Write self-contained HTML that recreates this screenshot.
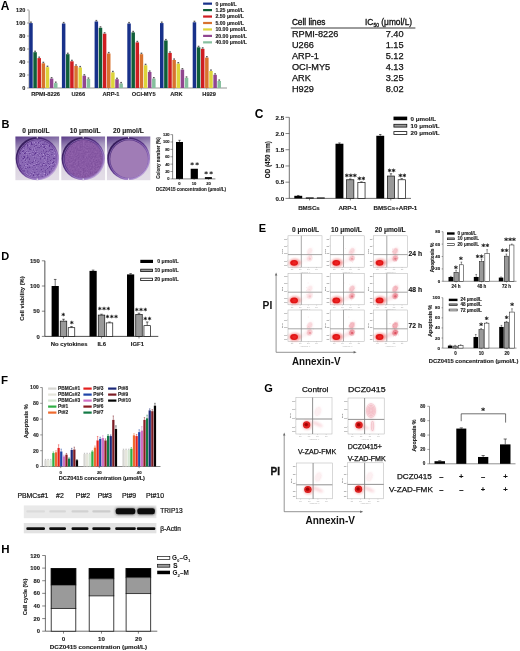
<!DOCTYPE html>
<html><head><meta charset="utf-8"><title>Figure</title>
<style>html,body{margin:0;padding:0;background:#fff;} svg{display:block;} text{font-family:'Liberation Sans', Arial, Helvetica, sans-serif;}</style>
</head><body>
<svg width="520" height="651" viewBox="0 0 520 651">
<defs>
<filter id="bl03" x="-50%" y="-50%" width="200%" height="200%"><feGaussianBlur stdDeviation="0.3"/></filter>
<filter id="bl05" x="-50%" y="-50%" width="200%" height="200%"><feGaussianBlur stdDeviation="0.5"/></filter>
<filter id="bl1" x="-50%" y="-50%" width="200%" height="200%"><feGaussianBlur stdDeviation="1"/></filter>
<filter id="bl04" x="-50%" y="-50%" width="200%" height="200%"><feGaussianBlur stdDeviation="0.4"/></filter>
<filter id="bl08" x="-50%" y="-50%" width="200%" height="200%"><feGaussianBlur stdDeviation="0.8"/></filter>
<filter id="speck1" x="0" y="0" width="100%" height="100%" color-interpolation-filters="sRGB">
<feTurbulence type="fractalNoise" baseFrequency="0.55" numOctaves="2" seed="4" result="n"/>
<feColorMatrix in="n" type="matrix" values="0 0 0 0 0.36  0 0 0 0 0.2  0 0 0 0 0.56  -4.5 0 0 0 2.15" result="c"/>
<feTurbulence type="fractalNoise" baseFrequency="1.1" numOctaves="1" seed="11" result="n2"/>
<feColorMatrix in="n2" type="matrix" values="0 0 0 0 0.72  0 0 0 0 0.6  0 0 0 0 0.86  4 0 0 0 -2.3" result="c2"/>
<feMerge result="m"><feMergeNode in="c"/><feMergeNode in="c2"/></feMerge>
<feComposite in="m" in2="SourceGraphic" operator="in"/>
</filter>
<filter id="speck2" x="0" y="0" width="100%" height="100%" color-interpolation-filters="sRGB">
<feTurbulence type="fractalNoise" baseFrequency="0.6" numOctaves="2" seed="9" result="n"/>
<feColorMatrix in="n" type="matrix" values="0.3 0 0 0 0.38  0.3 0 0 0 0.2  0.25 0 0 0 0.52  0 0 0 0 0.5" result="c"/>
<feComposite in="c" in2="SourceGraphic" operator="in"/>
</filter>
<linearGradient id="rimg" x1="0.15" y1="0.1" x2="0.85" y2="0.9">
<stop offset="0" stop-color="#321a58"/><stop offset="0.45" stop-color="#5a3488"/><stop offset="0.8" stop-color="#9a78c0"/><stop offset="1" stop-color="#c8b0dc"/>
</linearGradient>
<linearGradient id="dbg" x1="0" y1="0" x2="0.15" y2="1">
<stop offset="0" stop-color="#5a3c88"/><stop offset="0.3" stop-color="#a898c0"/><stop offset="0.6" stop-color="#d8d0de"/><stop offset="1" stop-color="#e2dce6"/>
</linearGradient>
</defs>
<rect width="520" height="651" fill="#fff"/>
<text x="0.8" y="10" font-size="12" font-weight="bold" fill="#000">A</text>
<line x1="29.1" y1="10.4" x2="29.1" y2="88" stroke="#7a7a7a" stroke-width="0.8"/>
<line x1="29.1" y1="88" x2="227" y2="88" stroke="#7a7a7a" stroke-width="0.8"/>
<line x1="27.1" y1="88" x2="29.1" y2="88" stroke="#7a7a7a" stroke-width="0.7"/>
<text x="25.3" y="89.95" font-size="5.5" text-anchor="end" font-weight="bold" fill="#222" stroke="#222" stroke-width="0.12">0</text>
<line x1="27.1" y1="75" x2="29.1" y2="75" stroke="#7a7a7a" stroke-width="0.7"/>
<text x="25.3" y="76.95" font-size="5.5" text-anchor="end" font-weight="bold" fill="#222" stroke="#222" stroke-width="0.12">20</text>
<line x1="27.1" y1="62" x2="29.1" y2="62" stroke="#7a7a7a" stroke-width="0.7"/>
<text x="25.3" y="63.95" font-size="5.5" text-anchor="end" font-weight="bold" fill="#222" stroke="#222" stroke-width="0.12">40</text>
<line x1="27.1" y1="49" x2="29.1" y2="49" stroke="#7a7a7a" stroke-width="0.7"/>
<text x="25.3" y="50.95" font-size="5.5" text-anchor="end" font-weight="bold" fill="#222" stroke="#222" stroke-width="0.12">60</text>
<line x1="27.1" y1="36" x2="29.1" y2="36" stroke="#7a7a7a" stroke-width="0.7"/>
<text x="25.3" y="37.95" font-size="5.5" text-anchor="end" font-weight="bold" fill="#222" stroke="#222" stroke-width="0.12">80</text>
<line x1="27.1" y1="23" x2="29.1" y2="23" stroke="#7a7a7a" stroke-width="0.7"/>
<text x="25.3" y="24.95" font-size="5.5" text-anchor="end" font-weight="bold" fill="#222" stroke="#222" stroke-width="0.12">100</text>
<line x1="27.1" y1="10" x2="29.1" y2="10" stroke="#7a7a7a" stroke-width="0.7"/>
<text x="25.3" y="11.95" font-size="5.5" text-anchor="end" font-weight="bold" fill="#222" stroke="#222" stroke-width="0.12">120</text>
<rect x="29.2" y="23.1" width="3.5" height="64.9" fill="#18318a"/>
<rect x="30.1" y="21.5" width="1.7" height="1.4" fill="#2a2a2a" opacity="0.75"/>
<rect x="33.33" y="52.2" width="3.5" height="35.8" fill="#105e38"/>
<rect x="34.23" y="50.6" width="1.7" height="1.4" fill="#2a2a2a" opacity="0.75"/>
<rect x="37.46" y="58.1" width="3.5" height="29.9" fill="#cf1d21"/>
<rect x="38.36" y="56.5" width="1.7" height="1.4" fill="#2a2a2a" opacity="0.75"/>
<rect x="41.59" y="63.3" width="3.5" height="24.7" fill="#d8722f"/>
<rect x="42.49" y="61.7" width="1.7" height="1.4" fill="#2a2a2a" opacity="0.75"/>
<rect x="45.72" y="67.2" width="3.5" height="20.8" fill="#ddd43a"/>
<rect x="46.62" y="65.6" width="1.7" height="1.4" fill="#2a2a2a" opacity="0.75"/>
<rect x="49.85" y="78.6" width="3.5" height="9.4" fill="#904690"/>
<rect x="50.75" y="77" width="1.7" height="1.4" fill="#2a2a2a" opacity="0.75"/>
<rect x="53.98" y="83.1" width="3.5" height="4.9" fill="#86bf9e"/>
<rect x="54.88" y="81.5" width="1.7" height="1.4" fill="#2a2a2a" opacity="0.75"/>
<line x1="43.2" y1="88" x2="43.2" y2="89.6" stroke="#7a7a7a" stroke-width="0.6"/>
<text x="45.6" y="96.3" font-size="5.7" text-anchor="middle" font-weight="bold" fill="#222" stroke="#222" stroke-width="0.12">RPMI-8226</text>
<rect x="61.9" y="23.5" width="3.5" height="64.5" fill="#18318a"/>
<rect x="62.8" y="21.9" width="1.7" height="1.4" fill="#2a2a2a" opacity="0.75"/>
<rect x="66.03" y="54.2" width="3.5" height="33.8" fill="#105e38"/>
<rect x="66.93" y="52.6" width="1.7" height="1.4" fill="#2a2a2a" opacity="0.75"/>
<rect x="70.16" y="61.3" width="3.5" height="26.7" fill="#cf1d21"/>
<rect x="71.06" y="59.7" width="1.7" height="1.4" fill="#2a2a2a" opacity="0.75"/>
<rect x="74.29" y="65.9" width="3.5" height="22.1" fill="#d8722f"/>
<rect x="75.19" y="64.3" width="1.7" height="1.4" fill="#2a2a2a" opacity="0.75"/>
<rect x="78.42" y="67.5" width="3.5" height="20.5" fill="#ddd43a"/>
<rect x="79.32" y="65.9" width="1.7" height="1.4" fill="#2a2a2a" opacity="0.75"/>
<rect x="82.55" y="75.7" width="3.5" height="12.3" fill="#904690"/>
<rect x="83.45" y="74.1" width="1.7" height="1.4" fill="#2a2a2a" opacity="0.75"/>
<rect x="86.68" y="79" width="3.5" height="9" fill="#86bf9e"/>
<rect x="87.58" y="77.4" width="1.7" height="1.4" fill="#2a2a2a" opacity="0.75"/>
<line x1="75.9" y1="88" x2="75.9" y2="89.6" stroke="#7a7a7a" stroke-width="0.6"/>
<text x="78.3" y="96.3" font-size="5.7" text-anchor="middle" font-weight="bold" fill="#222" stroke="#222" stroke-width="0.12">U266</text>
<rect x="94.6" y="21.5" width="3.5" height="66.5" fill="#18318a"/>
<rect x="95.5" y="19.9" width="1.7" height="1.4" fill="#2a2a2a" opacity="0.75"/>
<rect x="98.73" y="27.8" width="3.5" height="60.2" fill="#105e38"/>
<rect x="99.63" y="26.2" width="1.7" height="1.4" fill="#2a2a2a" opacity="0.75"/>
<rect x="102.86" y="33.7" width="3.5" height="54.3" fill="#cf1d21"/>
<rect x="103.76" y="32.1" width="1.7" height="1.4" fill="#2a2a2a" opacity="0.75"/>
<rect x="106.99" y="53.5" width="3.5" height="34.5" fill="#d8722f"/>
<rect x="107.89" y="51.9" width="1.7" height="1.4" fill="#2a2a2a" opacity="0.75"/>
<rect x="111.12" y="72.4" width="3.5" height="15.6" fill="#ddd43a"/>
<rect x="112.02" y="70.8" width="1.7" height="1.4" fill="#2a2a2a" opacity="0.75"/>
<rect x="115.25" y="79.2" width="3.5" height="8.8" fill="#904690"/>
<rect x="116.15" y="77.6" width="1.7" height="1.4" fill="#2a2a2a" opacity="0.75"/>
<rect x="119.38" y="83.5" width="3.5" height="4.5" fill="#86bf9e"/>
<rect x="120.28" y="81.9" width="1.7" height="1.4" fill="#2a2a2a" opacity="0.75"/>
<line x1="108.6" y1="88" x2="108.6" y2="89.6" stroke="#7a7a7a" stroke-width="0.6"/>
<text x="111" y="96.3" font-size="5.7" text-anchor="middle" font-weight="bold" fill="#222" stroke="#222" stroke-width="0.12">ARP-1</text>
<rect x="127.3" y="23.5" width="3.5" height="64.5" fill="#18318a"/>
<rect x="128.2" y="21.9" width="1.7" height="1.4" fill="#2a2a2a" opacity="0.75"/>
<rect x="131.43" y="32.4" width="3.5" height="55.6" fill="#105e38"/>
<rect x="132.33" y="30.8" width="1.7" height="1.4" fill="#2a2a2a" opacity="0.75"/>
<rect x="135.56" y="42.4" width="3.5" height="45.6" fill="#cf1d21"/>
<rect x="136.46" y="40.8" width="1.7" height="1.4" fill="#2a2a2a" opacity="0.75"/>
<rect x="139.69" y="54.2" width="3.5" height="33.8" fill="#d8722f"/>
<rect x="140.59" y="52.6" width="1.7" height="1.4" fill="#2a2a2a" opacity="0.75"/>
<rect x="143.82" y="65.3" width="3.5" height="22.7" fill="#ddd43a"/>
<rect x="144.72" y="63.7" width="1.7" height="1.4" fill="#2a2a2a" opacity="0.75"/>
<rect x="147.95" y="72" width="3.5" height="16" fill="#904690"/>
<rect x="148.85" y="70.4" width="1.7" height="1.4" fill="#2a2a2a" opacity="0.75"/>
<rect x="152.08" y="78.6" width="3.5" height="9.4" fill="#86bf9e"/>
<rect x="152.98" y="77" width="1.7" height="1.4" fill="#2a2a2a" opacity="0.75"/>
<line x1="141.3" y1="88" x2="141.3" y2="89.6" stroke="#7a7a7a" stroke-width="0.6"/>
<text x="143.7" y="96.3" font-size="5.7" text-anchor="middle" font-weight="bold" fill="#222" stroke="#222" stroke-width="0.12">OCI-MY5</text>
<rect x="160" y="23.1" width="3.5" height="64.9" fill="#18318a"/>
<rect x="160.9" y="21.5" width="1.7" height="1.4" fill="#2a2a2a" opacity="0.75"/>
<rect x="164.13" y="40.5" width="3.5" height="47.5" fill="#105e38"/>
<rect x="165.03" y="38.9" width="1.7" height="1.4" fill="#2a2a2a" opacity="0.75"/>
<rect x="168.26" y="52.9" width="3.5" height="35.1" fill="#cf1d21"/>
<rect x="169.16" y="51.3" width="1.7" height="1.4" fill="#2a2a2a" opacity="0.75"/>
<rect x="172.39" y="60" width="3.5" height="28" fill="#d8722f"/>
<rect x="173.29" y="58.4" width="1.7" height="1.4" fill="#2a2a2a" opacity="0.75"/>
<rect x="176.52" y="63.6" width="3.5" height="24.4" fill="#ddd43a"/>
<rect x="177.42" y="62" width="1.7" height="1.4" fill="#2a2a2a" opacity="0.75"/>
<rect x="180.65" y="69.6" width="3.5" height="18.4" fill="#904690"/>
<rect x="181.55" y="68" width="1.7" height="1.4" fill="#2a2a2a" opacity="0.75"/>
<rect x="184.78" y="77.9" width="3.5" height="10.1" fill="#86bf9e"/>
<rect x="185.68" y="76.3" width="1.7" height="1.4" fill="#2a2a2a" opacity="0.75"/>
<line x1="174" y1="88" x2="174" y2="89.6" stroke="#7a7a7a" stroke-width="0.6"/>
<text x="176.4" y="96.3" font-size="5.7" text-anchor="middle" font-weight="bold" fill="#222" stroke="#222" stroke-width="0.12">ARK</text>
<rect x="192.7" y="22.3" width="3.5" height="65.7" fill="#18318a"/>
<rect x="193.6" y="20.7" width="1.7" height="1.4" fill="#2a2a2a" opacity="0.75"/>
<rect x="196.83" y="47.3" width="3.5" height="40.7" fill="#105e38"/>
<rect x="197.73" y="45.7" width="1.7" height="1.4" fill="#2a2a2a" opacity="0.75"/>
<rect x="200.96" y="48.8" width="3.5" height="39.2" fill="#cf1d21"/>
<rect x="201.86" y="47.2" width="1.7" height="1.4" fill="#2a2a2a" opacity="0.75"/>
<rect x="205.09" y="57.6" width="3.5" height="30.4" fill="#d8722f"/>
<rect x="205.99" y="56" width="1.7" height="1.4" fill="#2a2a2a" opacity="0.75"/>
<rect x="209.22" y="71" width="3.5" height="17" fill="#ddd43a"/>
<rect x="210.12" y="69.4" width="1.7" height="1.4" fill="#2a2a2a" opacity="0.75"/>
<rect x="213.35" y="74.8" width="3.5" height="13.2" fill="#904690"/>
<rect x="214.25" y="73.2" width="1.7" height="1.4" fill="#2a2a2a" opacity="0.75"/>
<rect x="217.48" y="81" width="3.5" height="7" fill="#86bf9e"/>
<rect x="218.38" y="79.4" width="1.7" height="1.4" fill="#2a2a2a" opacity="0.75"/>
<line x1="206.7" y1="88" x2="206.7" y2="89.6" stroke="#7a7a7a" stroke-width="0.6"/>
<text x="209.1" y="96.3" font-size="5.7" text-anchor="middle" font-weight="bold" fill="#222" stroke="#222" stroke-width="0.12">H929</text>
<rect x="203.1" y="2.55" width="8.9" height="2.2" fill="#18318a"/>
<text x="215.4" y="5.55" font-size="5.2" font-weight="bold" fill="#222" stroke="#222" stroke-width="0.12">0 &#956;mol/L</text>
<rect x="203.1" y="9" width="8.9" height="2.2" fill="#105e38"/>
<text x="215.4" y="12" font-size="5.2" font-weight="bold" fill="#222" stroke="#222" stroke-width="0.12">1.25 &#956;mol/L</text>
<rect x="203.1" y="15.45" width="8.9" height="2.2" fill="#cf1d21"/>
<text x="215.4" y="18.45" font-size="5.2" font-weight="bold" fill="#222" stroke="#222" stroke-width="0.12">2.50 &#956;mol/L</text>
<rect x="203.1" y="21.9" width="8.9" height="2.2" fill="#d8722f"/>
<text x="215.4" y="24.9" font-size="5.2" font-weight="bold" fill="#222" stroke="#222" stroke-width="0.12">5.00 &#956;mol/L</text>
<rect x="203.1" y="28.35" width="8.9" height="2.2" fill="#ddd43a"/>
<text x="215.4" y="31.35" font-size="5.2" font-weight="bold" fill="#222" stroke="#222" stroke-width="0.12">10.00 &#956;mol/L</text>
<rect x="203.1" y="34.8" width="8.9" height="2.2" fill="#904690"/>
<text x="215.4" y="37.8" font-size="5.2" font-weight="bold" fill="#222" stroke="#222" stroke-width="0.12">20.00 &#956;mol/L</text>
<rect x="203.1" y="41.25" width="8.9" height="2.2" fill="#86bf9e"/>
<text x="215.4" y="44.25" font-size="5.2" font-weight="bold" fill="#222" stroke="#222" stroke-width="0.12">40.00 &#956;mol/L</text>
<text x="291.9" y="25" font-size="8.4" fill="#111" stroke="#111" stroke-width="0.35" textLength="33.5" lengthAdjust="spacingAndGlyphs">Cell lines</text>
<text x="365" y="25" font-size="8.4" fill="#111" stroke="#111" stroke-width="0.3">IC<tspan font-size="5" dy="1.8">50</tspan><tspan dy="-1.8"> (&#956;mol/L)</tspan></text>
<line x1="290.8" y1="28" x2="415.4" y2="28" stroke="#222" stroke-width="0.9"/>
<text x="291.9" y="37.4" font-size="9.2" fill="#111" stroke="#111" stroke-width="0.25">RPMI-8226</text>
<text x="394.6" y="37.4" font-size="9.2" text-anchor="middle" fill="#111" stroke="#111" stroke-width="0.25">7.40</text>
<text x="291.9" y="48.25" font-size="9.2" fill="#111" stroke="#111" stroke-width="0.25">U266</text>
<text x="394.6" y="48.25" font-size="9.2" text-anchor="middle" fill="#111" stroke="#111" stroke-width="0.25">1.15</text>
<text x="291.9" y="59.1" font-size="9.2" fill="#111" stroke="#111" stroke-width="0.25">ARP-1</text>
<text x="394.6" y="59.1" font-size="9.2" text-anchor="middle" fill="#111" stroke="#111" stroke-width="0.25">5.12</text>
<text x="291.9" y="69.95" font-size="9.2" fill="#111" stroke="#111" stroke-width="0.25">OCI-MY5</text>
<text x="394.6" y="69.95" font-size="9.2" text-anchor="middle" fill="#111" stroke="#111" stroke-width="0.25">4.13</text>
<text x="291.9" y="80.8" font-size="9.2" fill="#111" stroke="#111" stroke-width="0.25">ARK</text>
<text x="394.6" y="80.8" font-size="9.2" text-anchor="middle" fill="#111" stroke="#111" stroke-width="0.25">3.25</text>
<text x="291.9" y="91.65" font-size="9.2" fill="#111" stroke="#111" stroke-width="0.25">H929</text>
<text x="394.6" y="91.65" font-size="9.2" text-anchor="middle" fill="#111" stroke="#111" stroke-width="0.25">8.02</text>
<text x="1.4" y="127.8" font-size="11" font-weight="bold" fill="#000">B</text>
<text x="35.9" y="132.8" font-size="6.6" text-anchor="middle" font-weight="bold" fill="#1a1a1a" stroke="#1a1a1a" stroke-width="0.12">0 &#956;mol/L</text>
<text x="85.2" y="132.8" font-size="6.6" text-anchor="middle" font-weight="bold" fill="#1a1a1a" stroke="#1a1a1a" stroke-width="0.12">10 &#956;mol/L</text>
<text x="128.4" y="132.8" font-size="6.6" text-anchor="middle" font-weight="bold" fill="#1a1a1a" stroke="#1a1a1a" stroke-width="0.12">20 &#956;mol/L</text>
<rect x="15.4" y="136.5" width="43.7" height="43.7" fill="url(#dbg)"/>
<circle cx="37.25" cy="158.65" r="21.55" fill="url(#rimg)"/>
<circle cx="37.65" cy="159.05" r="19.85" fill="none" stroke="#a98ad0" stroke-width="0.7" opacity="0.9"/>
<circle cx="37.65" cy="159.05" r="19.25" fill="none" stroke="#5e3490" stroke-width="0.5" opacity="0.7"/>
<circle cx="37.65" cy="159.05" r="18.95" fill="#8a68b4"/>
<circle cx="37.65" cy="159.05" r="18.55" fill="#8a68b4" filter="url(#speck1)"/>
<rect x="36.75" y="136.5" width="1" height="1.8" fill="#eee8f2"/>
<rect x="36.75" y="178.4" width="1" height="1.8" fill="#eee8f2"/>
<rect x="61.3" y="136.5" width="43.8" height="43.7" fill="url(#dbg)"/>
<circle cx="83.2" cy="158.65" r="21.6" fill="url(#rimg)"/>
<circle cx="83.6" cy="159.05" r="19.9" fill="none" stroke="#a98ad0" stroke-width="0.7" opacity="0.9"/>
<circle cx="83.6" cy="159.05" r="19.3" fill="none" stroke="#5e3490" stroke-width="0.5" opacity="0.7"/>
<circle cx="83.6" cy="159.05" r="19" fill="#885aa4"/>
<circle cx="83.6" cy="159.05" r="18.6" fill="#885aa4" filter="url(#speck2)"/>
<rect x="82.7" y="136.5" width="1" height="1.8" fill="#eee8f2"/>
<rect x="82.7" y="178.4" width="1" height="1.8" fill="#eee8f2"/>
<rect x="106.9" y="136.5" width="43.4" height="43.7" fill="url(#dbg)"/>
<circle cx="128.6" cy="158.65" r="21.4" fill="url(#rimg)"/>
<circle cx="129" cy="159.05" r="19.7" fill="none" stroke="#a98ad0" stroke-width="0.7" opacity="0.9"/>
<circle cx="129" cy="159.05" r="19.1" fill="none" stroke="#5e3490" stroke-width="0.5" opacity="0.7"/>
<circle cx="129" cy="159.05" r="18.8" fill="#a07cb6"/>
<rect x="128.1" y="136.5" width="1" height="1.8" fill="#eee8f2"/>
<rect x="128.1" y="178.4" width="1" height="1.8" fill="#eee8f2"/>
<line x1="172.6" y1="134.6" x2="172.6" y2="178.9" stroke="#222" stroke-width="0.55"/>
<line x1="172.6" y1="178.9" x2="215.4" y2="178.9" stroke="#222" stroke-width="0.55"/>
<line x1="170.4" y1="178.9" x2="172.6" y2="178.9" stroke="#222" stroke-width="0.45"/>
<text x="169.6" y="180.3" font-size="4" text-anchor="end" font-weight="bold" fill="#222" stroke="#222" stroke-width="0.12">0</text>
<line x1="170.4" y1="171.52" x2="172.6" y2="171.52" stroke="#222" stroke-width="0.45"/>
<text x="169.6" y="172.92" font-size="4" text-anchor="end" font-weight="bold" fill="#222" stroke="#222" stroke-width="0.12">20</text>
<line x1="170.4" y1="164.13" x2="172.6" y2="164.13" stroke="#222" stroke-width="0.45"/>
<text x="169.6" y="165.53" font-size="4" text-anchor="end" font-weight="bold" fill="#222" stroke="#222" stroke-width="0.12">40</text>
<line x1="170.4" y1="156.75" x2="172.6" y2="156.75" stroke="#222" stroke-width="0.45"/>
<text x="169.6" y="158.15" font-size="4" text-anchor="end" font-weight="bold" fill="#222" stroke="#222" stroke-width="0.12">60</text>
<line x1="170.4" y1="149.37" x2="172.6" y2="149.37" stroke="#222" stroke-width="0.45"/>
<text x="169.6" y="150.77" font-size="4" text-anchor="end" font-weight="bold" fill="#222" stroke="#222" stroke-width="0.12">80</text>
<line x1="170.4" y1="141.98" x2="172.6" y2="141.98" stroke="#222" stroke-width="0.45"/>
<text x="169.6" y="143.38" font-size="4" text-anchor="end" font-weight="bold" fill="#222" stroke="#222" stroke-width="0.12">100</text>
<line x1="170.4" y1="134.6" x2="172.6" y2="134.6" stroke="#222" stroke-width="0.45"/>
<text x="169.6" y="136" font-size="4" text-anchor="end" font-weight="bold" fill="#222" stroke="#222" stroke-width="0.12">120</text>
<rect x="176" y="141.98" width="7" height="36.92" fill="#000"/>
<line x1="179.5" y1="141.98" x2="179.5" y2="140.29" stroke="#000" stroke-width="0.5"/>
<line x1="178.25" y1="140.29" x2="180.75" y2="140.29" stroke="#000" stroke-width="0.5"/>
<rect x="190.7" y="168.75" width="7.2" height="10.15" fill="#000"/>
<rect x="204.9" y="177.13" width="7" height="1.77" fill="#000"/>
<text x="190.57" y="166.95" font-size="6.2" font-weight="bold" fill="#111" letter-spacing="1.66" stroke="#111" stroke-width="0.18" style="font-family:'DejaVu Sans', sans-serif">**</text>
<text x="204.57" y="175.75" font-size="6.2" font-weight="bold" fill="#111" letter-spacing="1.66" stroke="#111" stroke-width="0.18" style="font-family:'DejaVu Sans', sans-serif">**</text>
<line x1="179.4" y1="178.9" x2="179.4" y2="179.9" stroke="#222" stroke-width="0.45"/>
<text x="179.4" y="184.6" font-size="4.1" text-anchor="middle" font-weight="bold" fill="#222" stroke="#222" stroke-width="0.12">0</text>
<line x1="194.1" y1="178.9" x2="194.1" y2="179.9" stroke="#222" stroke-width="0.45"/>
<text x="194.1" y="184.6" font-size="4.1" text-anchor="middle" font-weight="bold" fill="#222" stroke="#222" stroke-width="0.12">10</text>
<line x1="208.6" y1="178.9" x2="208.6" y2="179.9" stroke="#222" stroke-width="0.45"/>
<text x="208.6" y="184.6" font-size="4.1" text-anchor="middle" font-weight="bold" fill="#222" stroke="#222" stroke-width="0.12">20</text>
<text x="191" y="190.9" font-size="4.6" text-anchor="middle" font-weight="bold" fill="#222" stroke="#222" stroke-width="0.12" textLength="70" lengthAdjust="spacingAndGlyphs">DCZ0415 concentration (&#956;mol/L)</text>
<text x="159.5" y="158" font-size="4.8" text-anchor="middle" font-weight="bold" fill="#222" stroke="#222" stroke-width="0.12" transform="rotate(-90 159.5 158)" textLength="41.5" lengthAdjust="spacingAndGlyphs">Colony number (%)</text>
<text x="254.7" y="118" font-size="12" font-weight="bold" fill="#000">C</text>
<line x1="289.3" y1="117.3" x2="289.3" y2="198.4" stroke="#333" stroke-width="0.7"/>
<line x1="289.3" y1="198.4" x2="411" y2="198.4" stroke="#333" stroke-width="0.7"/>
<line x1="285.5" y1="198.4" x2="289.3" y2="198.4" stroke="#333" stroke-width="0.6"/>
<text x="284.2" y="200.6" font-size="6.2" text-anchor="end" font-weight="bold" fill="#1a1a1a" stroke="#1a1a1a" stroke-width="0.12">0.0</text>
<line x1="285.5" y1="182.18" x2="289.3" y2="182.18" stroke="#333" stroke-width="0.6"/>
<text x="284.2" y="184.38" font-size="6.2" text-anchor="end" font-weight="bold" fill="#1a1a1a" stroke="#1a1a1a" stroke-width="0.12">0.5</text>
<line x1="285.5" y1="165.96" x2="289.3" y2="165.96" stroke="#333" stroke-width="0.6"/>
<text x="284.2" y="168.16" font-size="6.2" text-anchor="end" font-weight="bold" fill="#1a1a1a" stroke="#1a1a1a" stroke-width="0.12">1.0</text>
<line x1="285.5" y1="149.74" x2="289.3" y2="149.74" stroke="#333" stroke-width="0.6"/>
<text x="284.2" y="151.94" font-size="6.2" text-anchor="end" font-weight="bold" fill="#1a1a1a" stroke="#1a1a1a" stroke-width="0.12">1.5</text>
<line x1="285.5" y1="133.52" x2="289.3" y2="133.52" stroke="#333" stroke-width="0.6"/>
<text x="284.2" y="135.72" font-size="6.2" text-anchor="end" font-weight="bold" fill="#1a1a1a" stroke="#1a1a1a" stroke-width="0.12">2.0</text>
<line x1="285.5" y1="117.3" x2="289.3" y2="117.3" stroke="#333" stroke-width="0.6"/>
<text x="284.2" y="119.5" font-size="6.2" text-anchor="end" font-weight="bold" fill="#1a1a1a" stroke="#1a1a1a" stroke-width="0.12">2.5</text>
<text x="269.8" y="159.7" font-size="6.3" text-anchor="middle" font-weight="bold" fill="#1a1a1a" stroke="#1a1a1a" stroke-width="0.12" transform="rotate(-90 269.8 159.7)">OD (450 nm)</text>
<rect x="294.3" y="195.8" width="7.9" height="2.6" fill="#000"/>
<line x1="298.25" y1="195.8" x2="298.25" y2="195.48" stroke="#111" stroke-width="0.6"/>
<line x1="297.05" y1="195.48" x2="299.45" y2="195.48" stroke="#111" stroke-width="0.6"/>
<rect x="306.15" y="197.78" width="7.2" height="0.62" fill="#999" stroke="#111" stroke-width="0.7"/>
<rect x="317.25" y="197.78" width="7.2" height="0.62" fill="#fff" stroke="#111" stroke-width="0.7"/>
<rect x="335.5" y="143.74" width="7.9" height="54.66" fill="#000"/>
<line x1="339.45" y1="143.74" x2="339.45" y2="142.93" stroke="#111" stroke-width="0.6"/>
<line x1="338.25" y1="142.93" x2="340.65" y2="142.93" stroke="#111" stroke-width="0.6"/>
<rect x="346.65" y="179.77" width="7.2" height="18.63" fill="#999" stroke="#111" stroke-width="0.7"/>
<line x1="350.25" y1="179.42" x2="350.25" y2="178.94" stroke="#111" stroke-width="0.6"/>
<line x1="349.05" y1="178.94" x2="351.45" y2="178.94" stroke="#111" stroke-width="0.6"/>
<rect x="357.85" y="182.53" width="7.2" height="15.87" fill="#fff" stroke="#111" stroke-width="0.7"/>
<line x1="361.45" y1="182.18" x2="361.45" y2="181.86" stroke="#111" stroke-width="0.6"/>
<line x1="360.25" y1="181.86" x2="362.65" y2="181.86" stroke="#111" stroke-width="0.6"/>
<rect x="376.3" y="135.79" width="7.9" height="62.61" fill="#000"/>
<line x1="380.25" y1="135.79" x2="380.25" y2="134.49" stroke="#111" stroke-width="0.6"/>
<line x1="379.05" y1="134.49" x2="381.45" y2="134.49" stroke="#111" stroke-width="0.6"/>
<rect x="387.35" y="176.04" width="7.2" height="22.36" fill="#999" stroke="#111" stroke-width="0.7"/>
<line x1="390.95" y1="175.69" x2="390.95" y2="173.75" stroke="#111" stroke-width="0.6"/>
<line x1="389.75" y1="173.75" x2="392.15" y2="173.75" stroke="#111" stroke-width="0.6"/>
<rect x="398.15" y="179.77" width="7.2" height="18.63" fill="#fff" stroke="#111" stroke-width="0.7"/>
<line x1="401.75" y1="179.42" x2="401.75" y2="178.61" stroke="#111" stroke-width="0.6"/>
<line x1="400.55" y1="178.61" x2="402.95" y2="178.61" stroke="#111" stroke-width="0.6"/>
<text x="344.91" y="179.28" font-size="7" font-weight="bold" fill="#111" letter-spacing="0.34" stroke="#111" stroke-width="0.18" style="font-family:'DejaVu Sans', sans-serif">***</text>
<text x="357.41" y="182.18" font-size="7" font-weight="bold" fill="#111" letter-spacing="0.34" stroke="#111" stroke-width="0.18" style="font-family:'DejaVu Sans', sans-serif">**</text>
<text x="387.71" y="173.88" font-size="7" font-weight="bold" fill="#111" letter-spacing="0.34" stroke="#111" stroke-width="0.18" style="font-family:'DejaVu Sans', sans-serif">**</text>
<text x="398.41" y="179.28" font-size="7" font-weight="bold" fill="#111" letter-spacing="0.34" stroke="#111" stroke-width="0.18" style="font-family:'DejaVu Sans', sans-serif">**</text>
<text x="309" y="209.5" font-size="6.2" text-anchor="middle" font-weight="bold" fill="#1a1a1a" stroke="#1a1a1a" stroke-width="0.12">BMSCs</text>
<text x="347.7" y="209.5" font-size="6.2" text-anchor="middle" font-weight="bold" fill="#1a1a1a" stroke="#1a1a1a" stroke-width="0.12">ARP-1</text>
<text x="395.4" y="209.5" font-size="6.2" text-anchor="middle" font-weight="bold" fill="#1a1a1a" stroke="#1a1a1a" stroke-width="0.12">BMSCs+ARP-1</text>
<line x1="309.5" y1="198.4" x2="309.5" y2="200.4" stroke="#333" stroke-width="0.6"/>
<line x1="350.3" y1="198.4" x2="350.3" y2="200.4" stroke="#333" stroke-width="0.6"/>
<line x1="390.8" y1="198.4" x2="390.8" y2="200.4" stroke="#333" stroke-width="0.6"/>
<rect x="393.5" y="116.6" width="13.7" height="3.6" fill="#000"/>
<text x="410.6" y="120.6" font-size="6.2" font-weight="bold" fill="#1a1a1a" stroke="#1a1a1a" stroke-width="0.12">0 &#956;mol/L</text>
<rect x="393.9" y="124.3" width="12.9" height="2.8" fill="#999" stroke="#111" stroke-width="0.8"/>
<text x="410.6" y="127.9" font-size="6.2" font-weight="bold" fill="#1a1a1a" stroke="#1a1a1a" stroke-width="0.12">10 &#956;mol/L</text>
<rect x="393.9" y="131.6" width="12.9" height="2.8" fill="#fff" stroke="#111" stroke-width="0.8"/>
<text x="410.6" y="135.2" font-size="6.2" font-weight="bold" fill="#1a1a1a" stroke="#1a1a1a" stroke-width="0.12">20 &#956;mol/L</text>
<text x="1.2" y="260.4" font-size="11" font-weight="bold" fill="#000">D</text>
<line x1="44.85" y1="260.8" x2="44.85" y2="336.4" stroke="#333" stroke-width="0.85"/>
<line x1="44.85" y1="336.4" x2="158.3" y2="336.4" stroke="#333" stroke-width="0.85"/>
<line x1="41.85" y1="336.4" x2="44.85" y2="336.4" stroke="#333" stroke-width="0.6"/>
<text x="39.8" y="338.5" font-size="5.9" text-anchor="end" font-weight="bold" fill="#222" stroke="#222" stroke-width="0.12">0</text>
<line x1="41.85" y1="311.2" x2="44.85" y2="311.2" stroke="#333" stroke-width="0.6"/>
<text x="39.8" y="313.3" font-size="5.9" text-anchor="end" font-weight="bold" fill="#222" stroke="#222" stroke-width="0.12">50</text>
<line x1="41.85" y1="286" x2="44.85" y2="286" stroke="#333" stroke-width="0.6"/>
<text x="39.8" y="288.1" font-size="5.9" text-anchor="end" font-weight="bold" fill="#222" stroke="#222" stroke-width="0.12">100</text>
<line x1="41.85" y1="260.8" x2="44.85" y2="260.8" stroke="#333" stroke-width="0.6"/>
<text x="39.8" y="262.9" font-size="5.9" text-anchor="end" font-weight="bold" fill="#222" stroke="#222" stroke-width="0.12">150</text>
<text x="23.9" y="298.5" font-size="5.8" text-anchor="middle" font-weight="bold" fill="#222" stroke="#222" stroke-width="0.12" transform="rotate(-90 23.9 298.5)">Cell viability (%)</text>
<rect x="51.6" y="286" width="7.2" height="50.4" fill="#000"/>
<line x1="55.2" y1="286" x2="55.2" y2="279.45" stroke="#111" stroke-width="0.6"/>
<line x1="53.9" y1="279.45" x2="56.5" y2="279.45" stroke="#111" stroke-width="0.6"/>
<rect x="60.25" y="321.13" width="6.5" height="15.27" fill="#999" stroke="#111" stroke-width="0.7"/>
<line x1="63.5" y1="320.78" x2="63.5" y2="319.26" stroke="#111" stroke-width="0.6"/>
<line x1="62.2" y1="319.26" x2="64.8" y2="319.26" stroke="#111" stroke-width="0.6"/>
<rect x="68.25" y="327.68" width="6.5" height="8.72" fill="#fff" stroke="#111" stroke-width="0.7"/>
<line x1="71.5" y1="327.33" x2="71.5" y2="326.57" stroke="#111" stroke-width="0.6"/>
<line x1="70.2" y1="326.57" x2="72.8" y2="326.57" stroke="#111" stroke-width="0.6"/>
<rect x="89.5" y="270.88" width="7.2" height="65.52" fill="#000"/>
<line x1="93.1" y1="270.88" x2="93.1" y2="270.12" stroke="#111" stroke-width="0.6"/>
<line x1="91.8" y1="270.12" x2="94.4" y2="270.12" stroke="#111" stroke-width="0.6"/>
<rect x="98.25" y="315.08" width="6.5" height="21.32" fill="#999" stroke="#111" stroke-width="0.7"/>
<line x1="101.5" y1="314.73" x2="101.5" y2="314.22" stroke="#111" stroke-width="0.6"/>
<line x1="100.2" y1="314.22" x2="102.8" y2="314.22" stroke="#111" stroke-width="0.6"/>
<rect x="106.25" y="322.89" width="6.5" height="13.51" fill="#fff" stroke="#111" stroke-width="0.7"/>
<line x1="109.5" y1="322.54" x2="109.5" y2="322.04" stroke="#111" stroke-width="0.6"/>
<line x1="108.2" y1="322.04" x2="110.8" y2="322.04" stroke="#111" stroke-width="0.6"/>
<rect x="127" y="274.41" width="7.2" height="61.99" fill="#000"/>
<line x1="130.6" y1="274.41" x2="130.6" y2="273.65" stroke="#111" stroke-width="0.6"/>
<line x1="129.3" y1="273.65" x2="131.9" y2="273.65" stroke="#111" stroke-width="0.6"/>
<rect x="135.75" y="314.57" width="6.5" height="21.83" fill="#999" stroke="#111" stroke-width="0.7"/>
<line x1="139" y1="314.22" x2="139" y2="313.22" stroke="#111" stroke-width="0.6"/>
<line x1="137.7" y1="313.22" x2="140.3" y2="313.22" stroke="#111" stroke-width="0.6"/>
<rect x="143.95" y="325.66" width="6.5" height="10.74" fill="#fff" stroke="#111" stroke-width="0.7"/>
<line x1="147.2" y1="325.31" x2="147.2" y2="321.99" stroke="#111" stroke-width="0.6"/>
<line x1="145.9" y1="321.99" x2="148.5" y2="321.99" stroke="#111" stroke-width="0.6"/>
<text x="61.47" y="317.67" font-size="6.8" font-weight="bold" fill="#111" letter-spacing="0.74" stroke="#111" stroke-width="0.18" style="font-family:'DejaVu Sans', sans-serif">*</text>
<text x="70.07" y="325.97" font-size="6.8" font-weight="bold" fill="#111" letter-spacing="0.74" stroke="#111" stroke-width="0.18" style="font-family:'DejaVu Sans', sans-serif">*</text>
<text x="97.97" y="311.97" font-size="6.8" font-weight="bold" fill="#111" letter-spacing="0.74" stroke="#111" stroke-width="0.18" style="font-family:'DejaVu Sans', sans-serif">***</text>
<text x="105.67" y="319.57" font-size="6.8" font-weight="bold" fill="#111" letter-spacing="0.74" stroke="#111" stroke-width="0.18" style="font-family:'DejaVu Sans', sans-serif">***</text>
<text x="134.97" y="312.97" font-size="6.8" font-weight="bold" fill="#111" letter-spacing="0.74" stroke="#111" stroke-width="0.18" style="font-family:'DejaVu Sans', sans-serif">***</text>
<text x="143.42" y="321.57" font-size="6.8" font-weight="bold" fill="#111" letter-spacing="0.74" stroke="#111" stroke-width="0.18" style="font-family:'DejaVu Sans', sans-serif">**</text>
<text x="69.2" y="345.9" font-size="5.9" text-anchor="middle" font-weight="bold" fill="#1a1a1a" stroke="#1a1a1a" stroke-width="0.12">No cytokines</text>
<text x="101.7" y="345.9" font-size="5.9" text-anchor="middle" font-weight="bold" fill="#1a1a1a" stroke="#1a1a1a" stroke-width="0.12">IL6</text>
<text x="137.4" y="345.9" font-size="5.9" text-anchor="middle" font-weight="bold" fill="#1a1a1a" stroke="#1a1a1a" stroke-width="0.12">IGF1</text>
<line x1="63.5" y1="336.4" x2="63.5" y2="338.4" stroke="#333" stroke-width="0.6"/>
<line x1="101.5" y1="336.4" x2="101.5" y2="338.4" stroke="#333" stroke-width="0.6"/>
<line x1="139" y1="336.4" x2="139" y2="338.4" stroke="#333" stroke-width="0.6"/>
<rect x="140.3" y="259.8" width="12.7" height="3.2" fill="#000"/>
<text x="178.6" y="263.2" font-size="5.2" text-anchor="end" font-weight="bold" fill="#222" stroke="#222" stroke-width="0.12">0 &#956;mol/L</text>
<rect x="140.7" y="269.2" width="11.9" height="2.4" fill="#999" stroke="#111" stroke-width="0.8"/>
<text x="178.6" y="272.2" font-size="5.2" text-anchor="end" font-weight="bold" fill="#222" stroke="#222" stroke-width="0.12">10 &#956;mol/L</text>
<rect x="140.7" y="278.2" width="11.9" height="2.4" fill="#fff" stroke="#111" stroke-width="0.8"/>
<text x="178.6" y="281.2" font-size="5.2" text-anchor="end" font-weight="bold" fill="#222" stroke="#222" stroke-width="0.12">20 &#956;mol/L</text>
<text x="258.8" y="232" font-size="11" font-weight="bold" fill="#000">E</text>
<text x="305.6" y="231.9" font-size="6.6" text-anchor="middle" font-weight="bold" fill="#1a1a1a" stroke="#1a1a1a" stroke-width="0.12">0 &#956;mol/L</text>
<text x="346.4" y="231.9" font-size="6.6" text-anchor="middle" font-weight="bold" fill="#1a1a1a" stroke="#1a1a1a" stroke-width="0.12">10 &#956;mol/L</text>
<text x="390.2" y="231.9" font-size="6.6" text-anchor="middle" font-weight="bold" fill="#1a1a1a" stroke="#1a1a1a" stroke-width="0.12">20 &#956;mol/L</text>
<rect x="288" y="235.8" width="34" height="31.4" fill="#fff" stroke="#b0b0b0" stroke-width="0.5"/>
<line x1="287.1" y1="238.94" x2="288" y2="238.94" stroke="#999" stroke-width="0.35"/>
<text x="286.9" y="239.74" font-size="2.3" text-anchor="end" fill="#9a9a9a" stroke="#9a9a9a" stroke-width="0.1">10</text>
<line x1="287.1" y1="245.85" x2="288" y2="245.85" stroke="#999" stroke-width="0.35"/>
<text x="286.9" y="246.65" font-size="2.3" text-anchor="end" fill="#9a9a9a" stroke="#9a9a9a" stroke-width="0.1">10</text>
<line x1="287.1" y1="253.38" x2="288" y2="253.38" stroke="#999" stroke-width="0.35"/>
<text x="286.9" y="254.18" font-size="2.3" text-anchor="end" fill="#9a9a9a" stroke="#9a9a9a" stroke-width="0.1">10</text>
<line x1="287.1" y1="260.92" x2="288" y2="260.92" stroke="#999" stroke-width="0.35"/>
<text x="286.9" y="261.72" font-size="2.3" text-anchor="end" fill="#9a9a9a" stroke="#9a9a9a" stroke-width="0.1">10</text>
<line x1="287.1" y1="265" x2="288" y2="265" stroke="#999" stroke-width="0.35"/>
<text x="286.9" y="265.8" font-size="2.3" text-anchor="end" fill="#9a9a9a" stroke="#9a9a9a" stroke-width="0.1">10</text>
<text x="283.4" y="251.5" font-size="2.3" text-anchor="middle" fill="#8a8a8a" stroke="#8a8a8a" stroke-width="0.1" transform="rotate(-90 283.4 251.5)">PI-A</text>
<line x1="292.08" y1="267.2" x2="292.08" y2="268.1" stroke="#999" stroke-width="0.35"/>
<text x="292.08" y="270.2" font-size="2.3" text-anchor="middle" fill="#a0a0a0">10</text>
<line x1="300.24" y1="267.2" x2="300.24" y2="268.1" stroke="#999" stroke-width="0.35"/>
<text x="300.24" y="270.2" font-size="2.3" text-anchor="middle" fill="#a0a0a0">10</text>
<line x1="308.4" y1="267.2" x2="308.4" y2="268.1" stroke="#999" stroke-width="0.35"/>
<text x="308.4" y="270.2" font-size="2.3" text-anchor="middle" fill="#a0a0a0">10</text>
<line x1="316.56" y1="267.2" x2="316.56" y2="268.1" stroke="#999" stroke-width="0.35"/>
<text x="316.56" y="270.2" font-size="2.3" text-anchor="middle" fill="#a0a0a0">10</text>
<text x="305" y="272.8" font-size="2.3" text-anchor="middle" fill="#a8a8a8">Annexin-V</text>
<ellipse cx="304.5" cy="260.3" rx="6" ry="2" fill="#f4b8c0" opacity="0.1" filter="url(#bl08)" transform="rotate(-25 304.5 260.3)"/>
<ellipse cx="309.5" cy="254.3" rx="7.5" ry="2.6" fill="#f4b0b8" opacity="0.11" filter="url(#bl08)" transform="rotate(-72 309.5 254.3)"/>
<ellipse cx="309.8" cy="258.4" rx="2.9" ry="2.5" fill="#ec8a96" stroke="#d84a5a" stroke-width="0.35" opacity="0.2" filter="url(#bl04)" transform="rotate(-60 309.8 258.4)"/>
<ellipse cx="309.9" cy="258.8" rx="1.3" ry="1.1" fill="#d83848" opacity="0.16" filter="url(#bl04)"/>
<ellipse cx="309.6" cy="251.1" rx="3.0" ry="2.2" fill="#f2a4ae" stroke="#e06070" stroke-width="0.35" opacity="0.17" filter="url(#bl04)" transform="rotate(-55 309.6 251.1)"/>
<circle cx="309.35" cy="257.12" r="0.4" fill="#d85060" opacity="0.25"/>
<circle cx="308.13" cy="253.61" r="0.4" fill="#d85060" opacity="0.25"/>
<circle cx="307.1" cy="254.47" r="0.4" fill="#d85060" opacity="0.25"/>
<circle cx="311.53" cy="255.91" r="0.4" fill="#d85060" opacity="0.25"/>
<circle cx="311.14" cy="255.21" r="0.4" fill="#d85060" opacity="0.25"/>
<circle cx="309.95" cy="255.34" r="0.4" fill="#d85060" opacity="0.25"/>
<line x1="301.3" y1="235.8" x2="301.3" y2="267.2" stroke="#8a8a8a" stroke-width="0.75"/>
<line x1="288" y1="254.6" x2="322" y2="254.6" stroke="#8a8a8a" stroke-width="0.75"/>
<ellipse cx="294.8" cy="262.8" rx="6" ry="4.1" fill="#f07878" opacity="0.7" filter="url(#bl08)"/>
<ellipse cx="294.1" cy="262.8" rx="3.9" ry="2.9" fill="#e01414" opacity="1" filter="url(#bl04)"/>
<ellipse cx="294.4" cy="262.9" rx="2.2" ry="1.6" fill="#f02828" opacity="0.8" filter="url(#bl04)"/>
<rect x="330.2" y="235.8" width="34" height="31.4" fill="#fff" stroke="#b0b0b0" stroke-width="0.5"/>
<line x1="329.3" y1="238.94" x2="330.2" y2="238.94" stroke="#999" stroke-width="0.35"/>
<text x="329.1" y="239.74" font-size="2.3" text-anchor="end" fill="#9a9a9a" stroke="#9a9a9a" stroke-width="0.1">10</text>
<line x1="329.3" y1="245.85" x2="330.2" y2="245.85" stroke="#999" stroke-width="0.35"/>
<text x="329.1" y="246.65" font-size="2.3" text-anchor="end" fill="#9a9a9a" stroke="#9a9a9a" stroke-width="0.1">10</text>
<line x1="329.3" y1="253.38" x2="330.2" y2="253.38" stroke="#999" stroke-width="0.35"/>
<text x="329.1" y="254.18" font-size="2.3" text-anchor="end" fill="#9a9a9a" stroke="#9a9a9a" stroke-width="0.1">10</text>
<line x1="329.3" y1="260.92" x2="330.2" y2="260.92" stroke="#999" stroke-width="0.35"/>
<text x="329.1" y="261.72" font-size="2.3" text-anchor="end" fill="#9a9a9a" stroke="#9a9a9a" stroke-width="0.1">10</text>
<line x1="329.3" y1="265" x2="330.2" y2="265" stroke="#999" stroke-width="0.35"/>
<text x="329.1" y="265.8" font-size="2.3" text-anchor="end" fill="#9a9a9a" stroke="#9a9a9a" stroke-width="0.1">10</text>
<text x="325.6" y="251.5" font-size="2.3" text-anchor="middle" fill="#8a8a8a" stroke="#8a8a8a" stroke-width="0.1" transform="rotate(-90 325.6 251.5)">PI-A</text>
<line x1="334.28" y1="267.2" x2="334.28" y2="268.1" stroke="#999" stroke-width="0.35"/>
<text x="334.28" y="270.2" font-size="2.3" text-anchor="middle" fill="#a0a0a0">10</text>
<line x1="342.44" y1="267.2" x2="342.44" y2="268.1" stroke="#999" stroke-width="0.35"/>
<text x="342.44" y="270.2" font-size="2.3" text-anchor="middle" fill="#a0a0a0">10</text>
<line x1="350.6" y1="267.2" x2="350.6" y2="268.1" stroke="#999" stroke-width="0.35"/>
<text x="350.6" y="270.2" font-size="2.3" text-anchor="middle" fill="#a0a0a0">10</text>
<line x1="358.76" y1="267.2" x2="358.76" y2="268.1" stroke="#999" stroke-width="0.35"/>
<text x="358.76" y="270.2" font-size="2.3" text-anchor="middle" fill="#a0a0a0">10</text>
<text x="347.2" y="272.8" font-size="2.3" text-anchor="middle" fill="#a8a8a8">Annexin-V</text>
<ellipse cx="346.7" cy="260.3" rx="6" ry="2" fill="#f4b8c0" opacity="0.19" filter="url(#bl08)" transform="rotate(-25 346.7 260.3)"/>
<ellipse cx="351.7" cy="254.3" rx="7.5" ry="2.6" fill="#f4b0b8" opacity="0.21" filter="url(#bl08)" transform="rotate(-72 351.7 254.3)"/>
<ellipse cx="352" cy="258.4" rx="2.9" ry="2.5" fill="#ec8a96" stroke="#d84a5a" stroke-width="0.35" opacity="0.38" filter="url(#bl04)" transform="rotate(-60 352 258.4)"/>
<ellipse cx="352.1" cy="258.8" rx="1.3" ry="1.1" fill="#d83848" opacity="0.3" filter="url(#bl04)"/>
<ellipse cx="351.8" cy="251.1" rx="3.0" ry="2.2" fill="#f2a4ae" stroke="#e06070" stroke-width="0.35" opacity="0.32" filter="url(#bl04)" transform="rotate(-55 351.8 251.1)"/>
<circle cx="349.7" cy="259.44" r="0.4" fill="#d85060" opacity="0.25"/>
<circle cx="352.82" cy="256.6" r="0.4" fill="#d85060" opacity="0.25"/>
<circle cx="345.66" cy="248.47" r="0.4" fill="#d85060" opacity="0.25"/>
<circle cx="348.97" cy="253.37" r="0.4" fill="#d85060" opacity="0.25"/>
<circle cx="351.65" cy="254.42" r="0.4" fill="#d85060" opacity="0.25"/>
<circle cx="351.09" cy="251.76" r="0.4" fill="#d85060" opacity="0.25"/>
<circle cx="352.33" cy="256.28" r="0.4" fill="#d85060" opacity="0.25"/>
<circle cx="352.73" cy="262.47" r="0.4" fill="#d85060" opacity="0.25"/>
<circle cx="353.98" cy="259.52" r="0.4" fill="#d85060" opacity="0.25"/>
<circle cx="349.01" cy="252.05" r="0.4" fill="#d85060" opacity="0.25"/>
<line x1="343.5" y1="235.8" x2="343.5" y2="267.2" stroke="#8a8a8a" stroke-width="0.75"/>
<line x1="330.2" y1="254.6" x2="364.2" y2="254.6" stroke="#8a8a8a" stroke-width="0.75"/>
<ellipse cx="337" cy="262.8" rx="6" ry="4.1" fill="#f07878" opacity="0.7" filter="url(#bl08)"/>
<ellipse cx="336.3" cy="262.8" rx="3.9" ry="2.9" fill="#e01414" opacity="1" filter="url(#bl04)"/>
<ellipse cx="336.6" cy="262.9" rx="2.2" ry="1.6" fill="#f02828" opacity="0.8" filter="url(#bl04)"/>
<rect x="373.5" y="235.8" width="34" height="31.4" fill="#fff" stroke="#b0b0b0" stroke-width="0.5"/>
<line x1="372.6" y1="238.94" x2="373.5" y2="238.94" stroke="#999" stroke-width="0.35"/>
<text x="372.4" y="239.74" font-size="2.3" text-anchor="end" fill="#9a9a9a" stroke="#9a9a9a" stroke-width="0.1">10</text>
<line x1="372.6" y1="245.85" x2="373.5" y2="245.85" stroke="#999" stroke-width="0.35"/>
<text x="372.4" y="246.65" font-size="2.3" text-anchor="end" fill="#9a9a9a" stroke="#9a9a9a" stroke-width="0.1">10</text>
<line x1="372.6" y1="253.38" x2="373.5" y2="253.38" stroke="#999" stroke-width="0.35"/>
<text x="372.4" y="254.18" font-size="2.3" text-anchor="end" fill="#9a9a9a" stroke="#9a9a9a" stroke-width="0.1">10</text>
<line x1="372.6" y1="260.92" x2="373.5" y2="260.92" stroke="#999" stroke-width="0.35"/>
<text x="372.4" y="261.72" font-size="2.3" text-anchor="end" fill="#9a9a9a" stroke="#9a9a9a" stroke-width="0.1">10</text>
<line x1="372.6" y1="265" x2="373.5" y2="265" stroke="#999" stroke-width="0.35"/>
<text x="372.4" y="265.8" font-size="2.3" text-anchor="end" fill="#9a9a9a" stroke="#9a9a9a" stroke-width="0.1">10</text>
<text x="368.9" y="251.5" font-size="2.3" text-anchor="middle" fill="#8a8a8a" stroke="#8a8a8a" stroke-width="0.1" transform="rotate(-90 368.9 251.5)">PI-A</text>
<line x1="377.58" y1="267.2" x2="377.58" y2="268.1" stroke="#999" stroke-width="0.35"/>
<text x="377.58" y="270.2" font-size="2.3" text-anchor="middle" fill="#a0a0a0">10</text>
<line x1="385.74" y1="267.2" x2="385.74" y2="268.1" stroke="#999" stroke-width="0.35"/>
<text x="385.74" y="270.2" font-size="2.3" text-anchor="middle" fill="#a0a0a0">10</text>
<line x1="393.9" y1="267.2" x2="393.9" y2="268.1" stroke="#999" stroke-width="0.35"/>
<text x="393.9" y="270.2" font-size="2.3" text-anchor="middle" fill="#a0a0a0">10</text>
<line x1="402.06" y1="267.2" x2="402.06" y2="268.1" stroke="#999" stroke-width="0.35"/>
<text x="402.06" y="270.2" font-size="2.3" text-anchor="middle" fill="#a0a0a0">10</text>
<text x="390.5" y="272.8" font-size="2.3" text-anchor="middle" fill="#a8a8a8">Annexin-V</text>
<ellipse cx="390" cy="260.3" rx="6" ry="2" fill="#f4b8c0" opacity="0.29" filter="url(#bl08)" transform="rotate(-25 390 260.3)"/>
<ellipse cx="395" cy="254.3" rx="7.5" ry="2.6" fill="#f4b0b8" opacity="0.32" filter="url(#bl08)" transform="rotate(-72 395 254.3)"/>
<ellipse cx="395.3" cy="258.4" rx="2.9" ry="2.5" fill="#ec8a96" stroke="#d84a5a" stroke-width="0.35" opacity="0.58" filter="url(#bl04)" transform="rotate(-60 395.3 258.4)"/>
<ellipse cx="395.4" cy="258.8" rx="1.3" ry="1.1" fill="#d83848" opacity="0.46" filter="url(#bl04)"/>
<ellipse cx="395.1" cy="251.1" rx="3.0" ry="2.2" fill="#f2a4ae" stroke="#e06070" stroke-width="0.35" opacity="0.49" filter="url(#bl04)" transform="rotate(-55 395.1 251.1)"/>
<circle cx="393.75" cy="254.56" r="0.4" fill="#d85060" opacity="0.25"/>
<circle cx="395.95" cy="255.46" r="0.4" fill="#d85060" opacity="0.25"/>
<circle cx="392.27" cy="251.03" r="0.4" fill="#d85060" opacity="0.25"/>
<circle cx="395.5" cy="260.28" r="0.4" fill="#d85060" opacity="0.25"/>
<circle cx="393.51" cy="256.33" r="0.4" fill="#d85060" opacity="0.25"/>
<circle cx="392.93" cy="248.24" r="0.4" fill="#d85060" opacity="0.25"/>
<circle cx="396.59" cy="260.29" r="0.4" fill="#d85060" opacity="0.25"/>
<circle cx="390.6" cy="254.68" r="0.4" fill="#d85060" opacity="0.25"/>
<circle cx="393.06" cy="251.41" r="0.4" fill="#d85060" opacity="0.25"/>
<circle cx="395.25" cy="254.23" r="0.4" fill="#d85060" opacity="0.25"/>
<circle cx="393.3" cy="259.2" r="0.4" fill="#d85060" opacity="0.25"/>
<circle cx="397.09" cy="258.39" r="0.4" fill="#d85060" opacity="0.25"/>
<circle cx="397.49" cy="255.44" r="0.4" fill="#d85060" opacity="0.25"/>
<circle cx="392.7" cy="249.23" r="0.4" fill="#d85060" opacity="0.25"/>
<line x1="386.8" y1="235.8" x2="386.8" y2="267.2" stroke="#8a8a8a" stroke-width="0.75"/>
<line x1="373.5" y1="254.6" x2="407.5" y2="254.6" stroke="#8a8a8a" stroke-width="0.75"/>
<ellipse cx="380.3" cy="262.8" rx="6" ry="4.1" fill="#f07878" opacity="0.7" filter="url(#bl08)"/>
<ellipse cx="379.6" cy="262.8" rx="3.9" ry="2.9" fill="#e01414" opacity="1" filter="url(#bl04)"/>
<ellipse cx="379.9" cy="262.9" rx="2.2" ry="1.6" fill="#f02828" opacity="0.8" filter="url(#bl04)"/>
<rect x="288" y="273.4" width="34" height="31.4" fill="#fff" stroke="#b0b0b0" stroke-width="0.5"/>
<line x1="287.1" y1="276.54" x2="288" y2="276.54" stroke="#999" stroke-width="0.35"/>
<text x="286.9" y="277.34" font-size="2.3" text-anchor="end" fill="#9a9a9a" stroke="#9a9a9a" stroke-width="0.1">10</text>
<line x1="287.1" y1="283.45" x2="288" y2="283.45" stroke="#999" stroke-width="0.35"/>
<text x="286.9" y="284.25" font-size="2.3" text-anchor="end" fill="#9a9a9a" stroke="#9a9a9a" stroke-width="0.1">10</text>
<line x1="287.1" y1="290.98" x2="288" y2="290.98" stroke="#999" stroke-width="0.35"/>
<text x="286.9" y="291.78" font-size="2.3" text-anchor="end" fill="#9a9a9a" stroke="#9a9a9a" stroke-width="0.1">10</text>
<line x1="287.1" y1="298.52" x2="288" y2="298.52" stroke="#999" stroke-width="0.35"/>
<text x="286.9" y="299.32" font-size="2.3" text-anchor="end" fill="#9a9a9a" stroke="#9a9a9a" stroke-width="0.1">10</text>
<line x1="287.1" y1="302.6" x2="288" y2="302.6" stroke="#999" stroke-width="0.35"/>
<text x="286.9" y="303.4" font-size="2.3" text-anchor="end" fill="#9a9a9a" stroke="#9a9a9a" stroke-width="0.1">10</text>
<text x="283.4" y="289.1" font-size="2.3" text-anchor="middle" fill="#8a8a8a" stroke="#8a8a8a" stroke-width="0.1" transform="rotate(-90 283.4 289.1)">PI-A</text>
<line x1="292.08" y1="304.8" x2="292.08" y2="305.7" stroke="#999" stroke-width="0.35"/>
<text x="292.08" y="307.8" font-size="2.3" text-anchor="middle" fill="#a0a0a0">10</text>
<line x1="300.24" y1="304.8" x2="300.24" y2="305.7" stroke="#999" stroke-width="0.35"/>
<text x="300.24" y="307.8" font-size="2.3" text-anchor="middle" fill="#a0a0a0">10</text>
<line x1="308.4" y1="304.8" x2="308.4" y2="305.7" stroke="#999" stroke-width="0.35"/>
<text x="308.4" y="307.8" font-size="2.3" text-anchor="middle" fill="#a0a0a0">10</text>
<line x1="316.56" y1="304.8" x2="316.56" y2="305.7" stroke="#999" stroke-width="0.35"/>
<text x="316.56" y="307.8" font-size="2.3" text-anchor="middle" fill="#a0a0a0">10</text>
<text x="305" y="310.4" font-size="2.3" text-anchor="middle" fill="#a8a8a8">Annexin-V</text>
<ellipse cx="304.5" cy="297.9" rx="6" ry="2" fill="#f4b8c0" opacity="0.1" filter="url(#bl08)" transform="rotate(-25 304.5 297.9)"/>
<ellipse cx="309.5" cy="291.9" rx="7.5" ry="2.6" fill="#f4b0b8" opacity="0.11" filter="url(#bl08)" transform="rotate(-72 309.5 291.9)"/>
<ellipse cx="309.8" cy="296" rx="2.9" ry="2.5" fill="#ec8a96" stroke="#d84a5a" stroke-width="0.35" opacity="0.2" filter="url(#bl04)" transform="rotate(-60 309.8 296)"/>
<ellipse cx="309.9" cy="296.4" rx="1.3" ry="1.1" fill="#d83848" opacity="0.16" filter="url(#bl04)"/>
<ellipse cx="309.6" cy="288.7" rx="3.0" ry="2.2" fill="#f2a4ae" stroke="#e06070" stroke-width="0.35" opacity="0.17" filter="url(#bl04)" transform="rotate(-55 309.6 288.7)"/>
<circle cx="309.1" cy="289.43" r="0.4" fill="#d85060" opacity="0.25"/>
<circle cx="306.29" cy="287.33" r="0.4" fill="#d85060" opacity="0.25"/>
<circle cx="306.55" cy="290.75" r="0.4" fill="#d85060" opacity="0.25"/>
<circle cx="308.05" cy="283.01" r="0.4" fill="#d85060" opacity="0.25"/>
<circle cx="306.9" cy="294.31" r="0.4" fill="#d85060" opacity="0.25"/>
<circle cx="312.33" cy="293.96" r="0.4" fill="#d85060" opacity="0.25"/>
<line x1="301.3" y1="273.4" x2="301.3" y2="304.8" stroke="#8a8a8a" stroke-width="0.75"/>
<line x1="288" y1="292.2" x2="322" y2="292.2" stroke="#8a8a8a" stroke-width="0.75"/>
<ellipse cx="294.8" cy="300.4" rx="6" ry="4.1" fill="#f07878" opacity="0.7" filter="url(#bl08)"/>
<ellipse cx="294.1" cy="300.4" rx="3.9" ry="2.9" fill="#e01414" opacity="1" filter="url(#bl04)"/>
<ellipse cx="294.4" cy="300.5" rx="2.2" ry="1.6" fill="#f02828" opacity="0.8" filter="url(#bl04)"/>
<rect x="330.2" y="273.4" width="34" height="31.4" fill="#fff" stroke="#b0b0b0" stroke-width="0.5"/>
<line x1="329.3" y1="276.54" x2="330.2" y2="276.54" stroke="#999" stroke-width="0.35"/>
<text x="329.1" y="277.34" font-size="2.3" text-anchor="end" fill="#9a9a9a" stroke="#9a9a9a" stroke-width="0.1">10</text>
<line x1="329.3" y1="283.45" x2="330.2" y2="283.45" stroke="#999" stroke-width="0.35"/>
<text x="329.1" y="284.25" font-size="2.3" text-anchor="end" fill="#9a9a9a" stroke="#9a9a9a" stroke-width="0.1">10</text>
<line x1="329.3" y1="290.98" x2="330.2" y2="290.98" stroke="#999" stroke-width="0.35"/>
<text x="329.1" y="291.78" font-size="2.3" text-anchor="end" fill="#9a9a9a" stroke="#9a9a9a" stroke-width="0.1">10</text>
<line x1="329.3" y1="298.52" x2="330.2" y2="298.52" stroke="#999" stroke-width="0.35"/>
<text x="329.1" y="299.32" font-size="2.3" text-anchor="end" fill="#9a9a9a" stroke="#9a9a9a" stroke-width="0.1">10</text>
<line x1="329.3" y1="302.6" x2="330.2" y2="302.6" stroke="#999" stroke-width="0.35"/>
<text x="329.1" y="303.4" font-size="2.3" text-anchor="end" fill="#9a9a9a" stroke="#9a9a9a" stroke-width="0.1">10</text>
<text x="325.6" y="289.1" font-size="2.3" text-anchor="middle" fill="#8a8a8a" stroke="#8a8a8a" stroke-width="0.1" transform="rotate(-90 325.6 289.1)">PI-A</text>
<line x1="334.28" y1="304.8" x2="334.28" y2="305.7" stroke="#999" stroke-width="0.35"/>
<text x="334.28" y="307.8" font-size="2.3" text-anchor="middle" fill="#a0a0a0">10</text>
<line x1="342.44" y1="304.8" x2="342.44" y2="305.7" stroke="#999" stroke-width="0.35"/>
<text x="342.44" y="307.8" font-size="2.3" text-anchor="middle" fill="#a0a0a0">10</text>
<line x1="350.6" y1="304.8" x2="350.6" y2="305.7" stroke="#999" stroke-width="0.35"/>
<text x="350.6" y="307.8" font-size="2.3" text-anchor="middle" fill="#a0a0a0">10</text>
<line x1="358.76" y1="304.8" x2="358.76" y2="305.7" stroke="#999" stroke-width="0.35"/>
<text x="358.76" y="307.8" font-size="2.3" text-anchor="middle" fill="#a0a0a0">10</text>
<text x="347.2" y="310.4" font-size="2.3" text-anchor="middle" fill="#a8a8a8">Annexin-V</text>
<ellipse cx="346.7" cy="297.9" rx="6" ry="2" fill="#f4b8c0" opacity="0.29" filter="url(#bl08)" transform="rotate(-25 346.7 297.9)"/>
<ellipse cx="351.7" cy="291.9" rx="7.5" ry="2.6" fill="#f4b0b8" opacity="0.32" filter="url(#bl08)" transform="rotate(-72 351.7 291.9)"/>
<ellipse cx="352" cy="296" rx="2.9" ry="2.5" fill="#ec8a96" stroke="#d84a5a" stroke-width="0.35" opacity="0.58" filter="url(#bl04)" transform="rotate(-60 352 296)"/>
<ellipse cx="352.1" cy="296.4" rx="1.3" ry="1.1" fill="#d83848" opacity="0.46" filter="url(#bl04)"/>
<ellipse cx="351.8" cy="288.7" rx="3.0" ry="2.2" fill="#f2a4ae" stroke="#e06070" stroke-width="0.35" opacity="0.49" filter="url(#bl04)" transform="rotate(-55 351.8 288.7)"/>
<circle cx="344.11" cy="282.92" r="0.4" fill="#d85060" opacity="0.25"/>
<circle cx="350.67" cy="289.07" r="0.4" fill="#d85060" opacity="0.25"/>
<circle cx="350.81" cy="297.22" r="0.4" fill="#d85060" opacity="0.25"/>
<circle cx="353.31" cy="292.39" r="0.4" fill="#d85060" opacity="0.25"/>
<circle cx="352.28" cy="294.09" r="0.4" fill="#d85060" opacity="0.25"/>
<circle cx="354.85" cy="294.04" r="0.4" fill="#d85060" opacity="0.25"/>
<circle cx="352.92" cy="294.4" r="0.4" fill="#d85060" opacity="0.25"/>
<circle cx="350.52" cy="298.79" r="0.4" fill="#d85060" opacity="0.25"/>
<circle cx="353.63" cy="294.05" r="0.4" fill="#d85060" opacity="0.25"/>
<circle cx="346.89" cy="290.94" r="0.4" fill="#d85060" opacity="0.25"/>
<circle cx="349.84" cy="284.22" r="0.4" fill="#d85060" opacity="0.25"/>
<circle cx="352.46" cy="296.82" r="0.4" fill="#d85060" opacity="0.25"/>
<circle cx="351.46" cy="300.02" r="0.4" fill="#d85060" opacity="0.25"/>
<circle cx="351.9" cy="291.43" r="0.4" fill="#d85060" opacity="0.25"/>
<line x1="343.5" y1="273.4" x2="343.5" y2="304.8" stroke="#8a8a8a" stroke-width="0.75"/>
<line x1="330.2" y1="292.2" x2="364.2" y2="292.2" stroke="#8a8a8a" stroke-width="0.75"/>
<ellipse cx="337" cy="300.4" rx="6" ry="4.1" fill="#f07878" opacity="0.7" filter="url(#bl08)"/>
<ellipse cx="336.3" cy="300.4" rx="3.9" ry="2.9" fill="#e01414" opacity="1" filter="url(#bl04)"/>
<ellipse cx="336.6" cy="300.5" rx="2.2" ry="1.6" fill="#f02828" opacity="0.8" filter="url(#bl04)"/>
<rect x="373.5" y="273.4" width="34" height="31.4" fill="#fff" stroke="#b0b0b0" stroke-width="0.5"/>
<line x1="372.6" y1="276.54" x2="373.5" y2="276.54" stroke="#999" stroke-width="0.35"/>
<text x="372.4" y="277.34" font-size="2.3" text-anchor="end" fill="#9a9a9a" stroke="#9a9a9a" stroke-width="0.1">10</text>
<line x1="372.6" y1="283.45" x2="373.5" y2="283.45" stroke="#999" stroke-width="0.35"/>
<text x="372.4" y="284.25" font-size="2.3" text-anchor="end" fill="#9a9a9a" stroke="#9a9a9a" stroke-width="0.1">10</text>
<line x1="372.6" y1="290.98" x2="373.5" y2="290.98" stroke="#999" stroke-width="0.35"/>
<text x="372.4" y="291.78" font-size="2.3" text-anchor="end" fill="#9a9a9a" stroke="#9a9a9a" stroke-width="0.1">10</text>
<line x1="372.6" y1="298.52" x2="373.5" y2="298.52" stroke="#999" stroke-width="0.35"/>
<text x="372.4" y="299.32" font-size="2.3" text-anchor="end" fill="#9a9a9a" stroke="#9a9a9a" stroke-width="0.1">10</text>
<line x1="372.6" y1="302.6" x2="373.5" y2="302.6" stroke="#999" stroke-width="0.35"/>
<text x="372.4" y="303.4" font-size="2.3" text-anchor="end" fill="#9a9a9a" stroke="#9a9a9a" stroke-width="0.1">10</text>
<text x="368.9" y="289.1" font-size="2.3" text-anchor="middle" fill="#8a8a8a" stroke="#8a8a8a" stroke-width="0.1" transform="rotate(-90 368.9 289.1)">PI-A</text>
<line x1="377.58" y1="304.8" x2="377.58" y2="305.7" stroke="#999" stroke-width="0.35"/>
<text x="377.58" y="307.8" font-size="2.3" text-anchor="middle" fill="#a0a0a0">10</text>
<line x1="385.74" y1="304.8" x2="385.74" y2="305.7" stroke="#999" stroke-width="0.35"/>
<text x="385.74" y="307.8" font-size="2.3" text-anchor="middle" fill="#a0a0a0">10</text>
<line x1="393.9" y1="304.8" x2="393.9" y2="305.7" stroke="#999" stroke-width="0.35"/>
<text x="393.9" y="307.8" font-size="2.3" text-anchor="middle" fill="#a0a0a0">10</text>
<line x1="402.06" y1="304.8" x2="402.06" y2="305.7" stroke="#999" stroke-width="0.35"/>
<text x="402.06" y="307.8" font-size="2.3" text-anchor="middle" fill="#a0a0a0">10</text>
<text x="390.5" y="310.4" font-size="2.3" text-anchor="middle" fill="#a8a8a8">Annexin-V</text>
<ellipse cx="390" cy="297.9" rx="6" ry="2" fill="#f4b8c0" opacity="0.38" filter="url(#bl08)" transform="rotate(-25 390 297.9)"/>
<ellipse cx="395" cy="291.9" rx="7.5" ry="2.6" fill="#f4b0b8" opacity="0.42" filter="url(#bl08)" transform="rotate(-72 395 291.9)"/>
<ellipse cx="395.3" cy="296" rx="2.9" ry="2.5" fill="#ec8a96" stroke="#d84a5a" stroke-width="0.35" opacity="0.76" filter="url(#bl04)" transform="rotate(-60 395.3 296)"/>
<ellipse cx="395.4" cy="296.4" rx="1.3" ry="1.1" fill="#d83848" opacity="0.61" filter="url(#bl04)"/>
<ellipse cx="395.1" cy="288.7" rx="3.0" ry="2.2" fill="#f2a4ae" stroke="#e06070" stroke-width="0.35" opacity="0.65" filter="url(#bl04)" transform="rotate(-55 395.1 288.7)"/>
<circle cx="396.05" cy="294.95" r="0.4" fill="#d85060" opacity="0.25"/>
<circle cx="396.47" cy="297.17" r="0.4" fill="#d85060" opacity="0.25"/>
<circle cx="392.74" cy="291.05" r="0.4" fill="#d85060" opacity="0.25"/>
<circle cx="396.3" cy="291.87" r="0.4" fill="#d85060" opacity="0.25"/>
<circle cx="394.47" cy="296.94" r="0.4" fill="#d85060" opacity="0.25"/>
<circle cx="396.29" cy="289.62" r="0.4" fill="#d85060" opacity="0.25"/>
<circle cx="391.96" cy="292.68" r="0.4" fill="#d85060" opacity="0.25"/>
<circle cx="393.79" cy="291.23" r="0.4" fill="#d85060" opacity="0.25"/>
<circle cx="395.3" cy="287.19" r="0.4" fill="#d85060" opacity="0.25"/>
<circle cx="394.68" cy="286.26" r="0.4" fill="#d85060" opacity="0.25"/>
<circle cx="394.14" cy="295.55" r="0.4" fill="#d85060" opacity="0.25"/>
<circle cx="397.73" cy="295.34" r="0.4" fill="#d85060" opacity="0.25"/>
<circle cx="395.3" cy="292.79" r="0.4" fill="#d85060" opacity="0.25"/>
<circle cx="395.64" cy="294.74" r="0.4" fill="#d85060" opacity="0.25"/>
<circle cx="394.63" cy="293.68" r="0.4" fill="#d85060" opacity="0.25"/>
<circle cx="395.47" cy="292.05" r="0.4" fill="#d85060" opacity="0.25"/>
<circle cx="396.66" cy="294.32" r="0.4" fill="#d85060" opacity="0.25"/>
<circle cx="398.4" cy="292.54" r="0.4" fill="#d85060" opacity="0.25"/>
<line x1="386.8" y1="273.4" x2="386.8" y2="304.8" stroke="#8a8a8a" stroke-width="0.75"/>
<line x1="373.5" y1="292.2" x2="407.5" y2="292.2" stroke="#8a8a8a" stroke-width="0.75"/>
<ellipse cx="380.3" cy="300.4" rx="6" ry="4.1" fill="#f07878" opacity="0.7" filter="url(#bl08)"/>
<ellipse cx="379.6" cy="300.4" rx="3.9" ry="2.9" fill="#e01414" opacity="1" filter="url(#bl04)"/>
<ellipse cx="379.9" cy="300.5" rx="2.2" ry="1.6" fill="#f02828" opacity="0.8" filter="url(#bl04)"/>
<rect x="288" y="310" width="34" height="31.4" fill="#fff" stroke="#b0b0b0" stroke-width="0.5"/>
<line x1="287.1" y1="313.14" x2="288" y2="313.14" stroke="#999" stroke-width="0.35"/>
<text x="286.9" y="313.94" font-size="2.3" text-anchor="end" fill="#9a9a9a" stroke="#9a9a9a" stroke-width="0.1">10</text>
<line x1="287.1" y1="320.05" x2="288" y2="320.05" stroke="#999" stroke-width="0.35"/>
<text x="286.9" y="320.85" font-size="2.3" text-anchor="end" fill="#9a9a9a" stroke="#9a9a9a" stroke-width="0.1">10</text>
<line x1="287.1" y1="327.58" x2="288" y2="327.58" stroke="#999" stroke-width="0.35"/>
<text x="286.9" y="328.38" font-size="2.3" text-anchor="end" fill="#9a9a9a" stroke="#9a9a9a" stroke-width="0.1">10</text>
<line x1="287.1" y1="335.12" x2="288" y2="335.12" stroke="#999" stroke-width="0.35"/>
<text x="286.9" y="335.92" font-size="2.3" text-anchor="end" fill="#9a9a9a" stroke="#9a9a9a" stroke-width="0.1">10</text>
<line x1="287.1" y1="339.2" x2="288" y2="339.2" stroke="#999" stroke-width="0.35"/>
<text x="286.9" y="340" font-size="2.3" text-anchor="end" fill="#9a9a9a" stroke="#9a9a9a" stroke-width="0.1">10</text>
<text x="283.4" y="325.7" font-size="2.3" text-anchor="middle" fill="#8a8a8a" stroke="#8a8a8a" stroke-width="0.1" transform="rotate(-90 283.4 325.7)">PI-A</text>
<line x1="292.08" y1="341.4" x2="292.08" y2="342.3" stroke="#999" stroke-width="0.35"/>
<text x="292.08" y="344.4" font-size="2.3" text-anchor="middle" fill="#a0a0a0">10</text>
<line x1="300.24" y1="341.4" x2="300.24" y2="342.3" stroke="#999" stroke-width="0.35"/>
<text x="300.24" y="344.4" font-size="2.3" text-anchor="middle" fill="#a0a0a0">10</text>
<line x1="308.4" y1="341.4" x2="308.4" y2="342.3" stroke="#999" stroke-width="0.35"/>
<text x="308.4" y="344.4" font-size="2.3" text-anchor="middle" fill="#a0a0a0">10</text>
<line x1="316.56" y1="341.4" x2="316.56" y2="342.3" stroke="#999" stroke-width="0.35"/>
<text x="316.56" y="344.4" font-size="2.3" text-anchor="middle" fill="#a0a0a0">10</text>
<text x="305" y="347" font-size="2.3" text-anchor="middle" fill="#a8a8a8">Annexin-V</text>
<ellipse cx="304.5" cy="334.5" rx="6" ry="2" fill="#f4b8c0" opacity="0.19" filter="url(#bl08)" transform="rotate(-25 304.5 334.5)"/>
<ellipse cx="309.5" cy="328.5" rx="7.5" ry="2.6" fill="#f4b0b8" opacity="0.21" filter="url(#bl08)" transform="rotate(-72 309.5 328.5)"/>
<ellipse cx="309.8" cy="332.6" rx="2.9" ry="2.5" fill="#ec8a96" stroke="#d84a5a" stroke-width="0.35" opacity="0.38" filter="url(#bl04)" transform="rotate(-60 309.8 332.6)"/>
<ellipse cx="309.9" cy="333" rx="1.3" ry="1.1" fill="#d83848" opacity="0.3" filter="url(#bl04)"/>
<ellipse cx="309.6" cy="325.3" rx="3.0" ry="2.2" fill="#f2a4ae" stroke="#e06070" stroke-width="0.35" opacity="0.32" filter="url(#bl04)" transform="rotate(-55 309.6 325.3)"/>
<circle cx="307.7" cy="327.69" r="0.4" fill="#d85060" opacity="0.25"/>
<circle cx="310.4" cy="332.91" r="0.4" fill="#d85060" opacity="0.25"/>
<circle cx="309.02" cy="330.84" r="0.4" fill="#d85060" opacity="0.25"/>
<circle cx="308.16" cy="317.02" r="0.4" fill="#d85060" opacity="0.25"/>
<circle cx="307.47" cy="330.72" r="0.4" fill="#d85060" opacity="0.25"/>
<circle cx="310.04" cy="329.76" r="0.4" fill="#d85060" opacity="0.25"/>
<circle cx="309.28" cy="332.04" r="0.4" fill="#d85060" opacity="0.25"/>
<circle cx="308.67" cy="326.62" r="0.4" fill="#d85060" opacity="0.25"/>
<circle cx="313.66" cy="329.01" r="0.4" fill="#d85060" opacity="0.25"/>
<circle cx="307.91" cy="328.92" r="0.4" fill="#d85060" opacity="0.25"/>
<line x1="301.3" y1="310" x2="301.3" y2="341.4" stroke="#8a8a8a" stroke-width="0.75"/>
<line x1="288" y1="328.8" x2="322" y2="328.8" stroke="#8a8a8a" stroke-width="0.75"/>
<ellipse cx="294.8" cy="337" rx="6" ry="4.1" fill="#f07878" opacity="0.7" filter="url(#bl08)"/>
<ellipse cx="294.1" cy="337" rx="3.9" ry="2.9" fill="#e01414" opacity="1" filter="url(#bl04)"/>
<ellipse cx="294.4" cy="337.1" rx="2.2" ry="1.6" fill="#f02828" opacity="0.8" filter="url(#bl04)"/>
<rect x="330.2" y="310" width="34" height="31.4" fill="#fff" stroke="#b0b0b0" stroke-width="0.5"/>
<line x1="329.3" y1="313.14" x2="330.2" y2="313.14" stroke="#999" stroke-width="0.35"/>
<text x="329.1" y="313.94" font-size="2.3" text-anchor="end" fill="#9a9a9a" stroke="#9a9a9a" stroke-width="0.1">10</text>
<line x1="329.3" y1="320.05" x2="330.2" y2="320.05" stroke="#999" stroke-width="0.35"/>
<text x="329.1" y="320.85" font-size="2.3" text-anchor="end" fill="#9a9a9a" stroke="#9a9a9a" stroke-width="0.1">10</text>
<line x1="329.3" y1="327.58" x2="330.2" y2="327.58" stroke="#999" stroke-width="0.35"/>
<text x="329.1" y="328.38" font-size="2.3" text-anchor="end" fill="#9a9a9a" stroke="#9a9a9a" stroke-width="0.1">10</text>
<line x1="329.3" y1="335.12" x2="330.2" y2="335.12" stroke="#999" stroke-width="0.35"/>
<text x="329.1" y="335.92" font-size="2.3" text-anchor="end" fill="#9a9a9a" stroke="#9a9a9a" stroke-width="0.1">10</text>
<line x1="329.3" y1="339.2" x2="330.2" y2="339.2" stroke="#999" stroke-width="0.35"/>
<text x="329.1" y="340" font-size="2.3" text-anchor="end" fill="#9a9a9a" stroke="#9a9a9a" stroke-width="0.1">10</text>
<text x="325.6" y="325.7" font-size="2.3" text-anchor="middle" fill="#8a8a8a" stroke="#8a8a8a" stroke-width="0.1" transform="rotate(-90 325.6 325.7)">PI-A</text>
<line x1="334.28" y1="341.4" x2="334.28" y2="342.3" stroke="#999" stroke-width="0.35"/>
<text x="334.28" y="344.4" font-size="2.3" text-anchor="middle" fill="#a0a0a0">10</text>
<line x1="342.44" y1="341.4" x2="342.44" y2="342.3" stroke="#999" stroke-width="0.35"/>
<text x="342.44" y="344.4" font-size="2.3" text-anchor="middle" fill="#a0a0a0">10</text>
<line x1="350.6" y1="341.4" x2="350.6" y2="342.3" stroke="#999" stroke-width="0.35"/>
<text x="350.6" y="344.4" font-size="2.3" text-anchor="middle" fill="#a0a0a0">10</text>
<line x1="358.76" y1="341.4" x2="358.76" y2="342.3" stroke="#999" stroke-width="0.35"/>
<text x="358.76" y="344.4" font-size="2.3" text-anchor="middle" fill="#a0a0a0">10</text>
<text x="347.2" y="347" font-size="2.3" text-anchor="middle" fill="#a8a8a8">Annexin-V</text>
<ellipse cx="346.7" cy="334.5" rx="6" ry="2" fill="#f4b8c0" opacity="0.38" filter="url(#bl08)" transform="rotate(-25 346.7 334.5)"/>
<ellipse cx="351.7" cy="328.5" rx="7.5" ry="2.6" fill="#f4b0b8" opacity="0.42" filter="url(#bl08)" transform="rotate(-72 351.7 328.5)"/>
<ellipse cx="352" cy="332.6" rx="2.9" ry="2.5" fill="#ec8a96" stroke="#d84a5a" stroke-width="0.35" opacity="0.76" filter="url(#bl04)" transform="rotate(-60 352 332.6)"/>
<ellipse cx="352.1" cy="333" rx="1.3" ry="1.1" fill="#d83848" opacity="0.61" filter="url(#bl04)"/>
<ellipse cx="351.8" cy="325.3" rx="3.0" ry="2.2" fill="#f2a4ae" stroke="#e06070" stroke-width="0.35" opacity="0.65" filter="url(#bl04)" transform="rotate(-55 351.8 325.3)"/>
<circle cx="350.72" cy="328.87" r="0.4" fill="#d85060" opacity="0.25"/>
<circle cx="345.84" cy="328.62" r="0.4" fill="#d85060" opacity="0.25"/>
<circle cx="351.11" cy="323.44" r="0.4" fill="#d85060" opacity="0.25"/>
<circle cx="352.55" cy="333.07" r="0.4" fill="#d85060" opacity="0.25"/>
<circle cx="354.94" cy="334.78" r="0.4" fill="#d85060" opacity="0.25"/>
<circle cx="347.78" cy="328.55" r="0.4" fill="#d85060" opacity="0.25"/>
<circle cx="351.58" cy="331.85" r="0.4" fill="#d85060" opacity="0.25"/>
<circle cx="348.92" cy="316.98" r="0.4" fill="#d85060" opacity="0.25"/>
<circle cx="350.81" cy="322.21" r="0.4" fill="#d85060" opacity="0.25"/>
<circle cx="350.06" cy="322.27" r="0.4" fill="#d85060" opacity="0.25"/>
<circle cx="353.34" cy="333.94" r="0.4" fill="#d85060" opacity="0.25"/>
<circle cx="351.24" cy="329.9" r="0.4" fill="#d85060" opacity="0.25"/>
<circle cx="352.77" cy="329.11" r="0.4" fill="#d85060" opacity="0.25"/>
<circle cx="353.41" cy="335.54" r="0.4" fill="#d85060" opacity="0.25"/>
<circle cx="352.52" cy="327.11" r="0.4" fill="#d85060" opacity="0.25"/>
<circle cx="354.08" cy="322.46" r="0.4" fill="#d85060" opacity="0.25"/>
<circle cx="352.34" cy="327.31" r="0.4" fill="#d85060" opacity="0.25"/>
<circle cx="352.51" cy="331.9" r="0.4" fill="#d85060" opacity="0.25"/>
<line x1="343.5" y1="310" x2="343.5" y2="341.4" stroke="#8a8a8a" stroke-width="0.75"/>
<line x1="330.2" y1="328.8" x2="364.2" y2="328.8" stroke="#8a8a8a" stroke-width="0.75"/>
<ellipse cx="337" cy="337" rx="6" ry="4.1" fill="#f07878" opacity="0.7" filter="url(#bl08)"/>
<ellipse cx="336.3" cy="337" rx="3.9" ry="2.9" fill="#e01414" opacity="1" filter="url(#bl04)"/>
<ellipse cx="336.6" cy="337.1" rx="2.2" ry="1.6" fill="#f02828" opacity="0.8" filter="url(#bl04)"/>
<rect x="373.5" y="310" width="34" height="31.4" fill="#fff" stroke="#b0b0b0" stroke-width="0.5"/>
<line x1="372.6" y1="313.14" x2="373.5" y2="313.14" stroke="#999" stroke-width="0.35"/>
<text x="372.4" y="313.94" font-size="2.3" text-anchor="end" fill="#9a9a9a" stroke="#9a9a9a" stroke-width="0.1">10</text>
<line x1="372.6" y1="320.05" x2="373.5" y2="320.05" stroke="#999" stroke-width="0.35"/>
<text x="372.4" y="320.85" font-size="2.3" text-anchor="end" fill="#9a9a9a" stroke="#9a9a9a" stroke-width="0.1">10</text>
<line x1="372.6" y1="327.58" x2="373.5" y2="327.58" stroke="#999" stroke-width="0.35"/>
<text x="372.4" y="328.38" font-size="2.3" text-anchor="end" fill="#9a9a9a" stroke="#9a9a9a" stroke-width="0.1">10</text>
<line x1="372.6" y1="335.12" x2="373.5" y2="335.12" stroke="#999" stroke-width="0.35"/>
<text x="372.4" y="335.92" font-size="2.3" text-anchor="end" fill="#9a9a9a" stroke="#9a9a9a" stroke-width="0.1">10</text>
<line x1="372.6" y1="339.2" x2="373.5" y2="339.2" stroke="#999" stroke-width="0.35"/>
<text x="372.4" y="340" font-size="2.3" text-anchor="end" fill="#9a9a9a" stroke="#9a9a9a" stroke-width="0.1">10</text>
<text x="368.9" y="325.7" font-size="2.3" text-anchor="middle" fill="#8a8a8a" stroke="#8a8a8a" stroke-width="0.1" transform="rotate(-90 368.9 325.7)">PI-A</text>
<line x1="377.58" y1="341.4" x2="377.58" y2="342.3" stroke="#999" stroke-width="0.35"/>
<text x="377.58" y="344.4" font-size="2.3" text-anchor="middle" fill="#a0a0a0">10</text>
<line x1="385.74" y1="341.4" x2="385.74" y2="342.3" stroke="#999" stroke-width="0.35"/>
<text x="385.74" y="344.4" font-size="2.3" text-anchor="middle" fill="#a0a0a0">10</text>
<line x1="393.9" y1="341.4" x2="393.9" y2="342.3" stroke="#999" stroke-width="0.35"/>
<text x="393.9" y="344.4" font-size="2.3" text-anchor="middle" fill="#a0a0a0">10</text>
<line x1="402.06" y1="341.4" x2="402.06" y2="342.3" stroke="#999" stroke-width="0.35"/>
<text x="402.06" y="344.4" font-size="2.3" text-anchor="middle" fill="#a0a0a0">10</text>
<text x="390.5" y="347" font-size="2.3" text-anchor="middle" fill="#a8a8a8">Annexin-V</text>
<ellipse cx="390" cy="334.5" rx="6" ry="2" fill="#f4b8c0" opacity="0.47" filter="url(#bl08)" transform="rotate(-25 390 334.5)"/>
<ellipse cx="395" cy="328.5" rx="7.5" ry="2.6" fill="#f4b0b8" opacity="0.52" filter="url(#bl08)" transform="rotate(-72 395 328.5)"/>
<ellipse cx="395.3" cy="332.6" rx="2.9" ry="2.5" fill="#ec8a96" stroke="#d84a5a" stroke-width="0.35" opacity="0.95" filter="url(#bl04)" transform="rotate(-60 395.3 332.6)"/>
<ellipse cx="395.4" cy="333" rx="1.3" ry="1.1" fill="#d83848" opacity="0.76" filter="url(#bl04)"/>
<ellipse cx="395.1" cy="325.3" rx="3.0" ry="2.2" fill="#f2a4ae" stroke="#e06070" stroke-width="0.35" opacity="0.81" filter="url(#bl04)" transform="rotate(-55 395.1 325.3)"/>
<circle cx="395.86" cy="331.56" r="0.4" fill="#d85060" opacity="0.25"/>
<circle cx="389.59" cy="323.56" r="0.4" fill="#d85060" opacity="0.25"/>
<circle cx="394.06" cy="324.55" r="0.4" fill="#d85060" opacity="0.25"/>
<circle cx="390.5" cy="323.42" r="0.4" fill="#d85060" opacity="0.25"/>
<circle cx="397.79" cy="331.38" r="0.4" fill="#d85060" opacity="0.25"/>
<circle cx="395.55" cy="324.13" r="0.4" fill="#d85060" opacity="0.25"/>
<circle cx="392.75" cy="324.18" r="0.4" fill="#d85060" opacity="0.25"/>
<circle cx="398.24" cy="335.25" r="0.4" fill="#d85060" opacity="0.25"/>
<circle cx="395.4" cy="336.15" r="0.4" fill="#d85060" opacity="0.25"/>
<circle cx="395.9" cy="327.64" r="0.4" fill="#d85060" opacity="0.25"/>
<circle cx="393.33" cy="336.16" r="0.4" fill="#d85060" opacity="0.25"/>
<circle cx="393.41" cy="326.51" r="0.4" fill="#d85060" opacity="0.25"/>
<circle cx="395.81" cy="330.49" r="0.4" fill="#d85060" opacity="0.25"/>
<circle cx="395.46" cy="323.76" r="0.4" fill="#d85060" opacity="0.25"/>
<circle cx="398.71" cy="334.59" r="0.4" fill="#d85060" opacity="0.25"/>
<circle cx="396.68" cy="327.34" r="0.4" fill="#d85060" opacity="0.25"/>
<circle cx="394.81" cy="333.77" r="0.4" fill="#d85060" opacity="0.25"/>
<circle cx="394.89" cy="329.45" r="0.4" fill="#d85060" opacity="0.25"/>
<circle cx="396.5" cy="327.01" r="0.4" fill="#d85060" opacity="0.25"/>
<circle cx="390.02" cy="328.78" r="0.4" fill="#d85060" opacity="0.25"/>
<circle cx="392.62" cy="333.6" r="0.4" fill="#d85060" opacity="0.25"/>
<circle cx="394.1" cy="326.22" r="0.4" fill="#d85060" opacity="0.25"/>
<line x1="386.8" y1="310" x2="386.8" y2="341.4" stroke="#8a8a8a" stroke-width="0.75"/>
<line x1="373.5" y1="328.8" x2="407.5" y2="328.8" stroke="#8a8a8a" stroke-width="0.75"/>
<ellipse cx="380.3" cy="337" rx="6" ry="4.1" fill="#f07878" opacity="0.7" filter="url(#bl08)"/>
<ellipse cx="379.6" cy="337" rx="3.9" ry="2.9" fill="#e01414" opacity="1" filter="url(#bl04)"/>
<ellipse cx="379.9" cy="337.1" rx="2.2" ry="1.6" fill="#f02828" opacity="0.8" filter="url(#bl04)"/>
<text x="408.6" y="255.7" font-size="7.8" font-weight="bold" fill="#111" stroke="#111" stroke-width="0.12" textLength="13.5" lengthAdjust="spacingAndGlyphs">24 h</text>
<text x="408.6" y="291.9" font-size="7.8" font-weight="bold" fill="#111" stroke="#111" stroke-width="0.12" textLength="13.5" lengthAdjust="spacingAndGlyphs">48 h</text>
<text x="408.6" y="328.3" font-size="7.8" font-weight="bold" fill="#111" stroke="#111" stroke-width="0.12" textLength="13.5" lengthAdjust="spacingAndGlyphs">72 h</text>
<line x1="276.1" y1="274.5" x2="276.1" y2="352.3" stroke="#666" stroke-width="0.7"/>
<path d="M276.1 272.4 L274.9 275.4 L277.3 275.4 Z" fill="#666"/>
<line x1="276.1" y1="352.3" x2="354.5" y2="352.3" stroke="#666" stroke-width="0.7"/>
<path d="M356.6 352.3 L353.6 351.1 L353.6 353.5 Z" fill="#666"/>
<text x="262.6" y="309.1" font-size="10.2" font-weight="bold" fill="#111">PI</text>
<text x="292" y="364.7" font-size="10" font-weight="bold" fill="#111" textLength="48.6" lengthAdjust="spacingAndGlyphs">Annexin-V</text>
<line x1="443" y1="231.7" x2="443" y2="281.3" stroke="#333" stroke-width="0.5"/>
<line x1="443" y1="281.3" x2="516.5" y2="281.3" stroke="#333" stroke-width="0.5"/>
<line x1="441.7" y1="281.3" x2="443" y2="281.3" stroke="#333" stroke-width="0.45"/>
<text x="440.1" y="282.85" font-size="4.4" text-anchor="end" font-weight="bold" fill="#1a1a1a" stroke="#1a1a1a" stroke-width="0.12">0</text>
<line x1="441.7" y1="268.9" x2="443" y2="268.9" stroke="#333" stroke-width="0.45"/>
<text x="440.1" y="270.45" font-size="4.4" text-anchor="end" font-weight="bold" fill="#1a1a1a" stroke="#1a1a1a" stroke-width="0.12">20</text>
<line x1="441.7" y1="256.5" x2="443" y2="256.5" stroke="#333" stroke-width="0.45"/>
<text x="440.1" y="258.05" font-size="4.4" text-anchor="end" font-weight="bold" fill="#1a1a1a" stroke="#1a1a1a" stroke-width="0.12">40</text>
<line x1="441.7" y1="244.1" x2="443" y2="244.1" stroke="#333" stroke-width="0.45"/>
<text x="440.1" y="245.65" font-size="4.4" text-anchor="end" font-weight="bold" fill="#1a1a1a" stroke="#1a1a1a" stroke-width="0.12">60</text>
<line x1="441.7" y1="231.7" x2="443" y2="231.7" stroke="#333" stroke-width="0.45"/>
<text x="440.1" y="233.25" font-size="4.4" text-anchor="end" font-weight="bold" fill="#1a1a1a" stroke="#1a1a1a" stroke-width="0.12">80</text>
<rect x="448.5" y="276.96" width="4.8" height="4.34" fill="#000"/>
<line x1="450.9" y1="276.96" x2="450.9" y2="276.34" stroke="#111" stroke-width="0.45"/>
<line x1="450.1" y1="276.34" x2="451.7" y2="276.34" stroke="#111" stroke-width="0.45"/>
<rect x="453.95" y="272.25" width="4.3" height="9.05" fill="#999" stroke="#111" stroke-width="0.5"/>
<line x1="456.1" y1="272" x2="456.1" y2="270.14" stroke="#111" stroke-width="0.45"/>
<line x1="455.3" y1="270.14" x2="456.9" y2="270.14" stroke="#111" stroke-width="0.45"/>
<rect x="459.25" y="264.81" width="4.3" height="16.49" fill="#fff" stroke="#111" stroke-width="0.5"/>
<line x1="461.4" y1="264.56" x2="461.4" y2="262.08" stroke="#111" stroke-width="0.45"/>
<line x1="460.6" y1="262.08" x2="462.2" y2="262.08" stroke="#111" stroke-width="0.45"/>
<rect x="473.8" y="276.96" width="4.9" height="4.34" fill="#000"/>
<line x1="476.25" y1="276.96" x2="476.25" y2="274.48" stroke="#111" stroke-width="0.45"/>
<line x1="475.45" y1="274.48" x2="477.05" y2="274.48" stroke="#111" stroke-width="0.45"/>
<rect x="479.25" y="261.71" width="4.5" height="19.59" fill="#999" stroke="#111" stroke-width="0.5"/>
<line x1="481.5" y1="261.46" x2="481.5" y2="258.98" stroke="#111" stroke-width="0.45"/>
<line x1="480.7" y1="258.98" x2="482.3" y2="258.98" stroke="#111" stroke-width="0.45"/>
<rect x="484.85" y="253.65" width="4.5" height="27.65" fill="#fff" stroke="#111" stroke-width="0.5"/>
<line x1="487.1" y1="253.4" x2="487.1" y2="249.68" stroke="#111" stroke-width="0.45"/>
<line x1="486.3" y1="249.68" x2="487.9" y2="249.68" stroke="#111" stroke-width="0.45"/>
<rect x="498.8" y="277.58" width="4.5" height="3.72" fill="#000"/>
<line x1="501.05" y1="277.58" x2="501.05" y2="276.96" stroke="#111" stroke-width="0.45"/>
<line x1="500.25" y1="276.96" x2="501.85" y2="276.96" stroke="#111" stroke-width="0.45"/>
<rect x="504.25" y="256.13" width="4.3" height="25.17" fill="#999" stroke="#111" stroke-width="0.5"/>
<line x1="506.4" y1="255.88" x2="506.4" y2="254.02" stroke="#111" stroke-width="0.45"/>
<line x1="505.6" y1="254.02" x2="507.2" y2="254.02" stroke="#111" stroke-width="0.45"/>
<rect x="509.65" y="244.97" width="4.3" height="36.33" fill="#fff" stroke="#111" stroke-width="0.5"/>
<line x1="511.8" y1="244.72" x2="511.8" y2="244.1" stroke="#111" stroke-width="0.45"/>
<line x1="511" y1="244.1" x2="512.6" y2="244.1" stroke="#111" stroke-width="0.45"/>
<line x1="456.1" y1="281.3" x2="456.1" y2="282.5" stroke="#333" stroke-width="0.45"/>
<text x="456.1" y="287.7" font-size="4.5" text-anchor="middle" font-weight="bold" fill="#1a1a1a" stroke="#1a1a1a" stroke-width="0.12">24 h</text>
<line x1="481.7" y1="281.3" x2="481.7" y2="282.5" stroke="#333" stroke-width="0.45"/>
<text x="481.7" y="287.7" font-size="4.5" text-anchor="middle" font-weight="bold" fill="#1a1a1a" stroke="#1a1a1a" stroke-width="0.12">48 h</text>
<line x1="506.5" y1="281.3" x2="506.5" y2="282.5" stroke="#333" stroke-width="0.45"/>
<text x="506.5" y="287.7" font-size="4.5" text-anchor="middle" font-weight="bold" fill="#1a1a1a" stroke="#1a1a1a" stroke-width="0.12">72 h</text>
<text x="453.96" y="270.58" font-size="7.2" font-weight="bold" fill="#111" letter-spacing="0.13" stroke="#111" stroke-width="0.18" style="font-family:'DejaVu Sans', sans-serif">*</text>
<text x="459.06" y="261.98" font-size="7.2" font-weight="bold" fill="#111" letter-spacing="0.13" stroke="#111" stroke-width="0.18" style="font-family:'DejaVu Sans', sans-serif">*</text>
<text x="475.81" y="259.58" font-size="7.2" font-weight="bold" fill="#111" letter-spacing="0.13" stroke="#111" stroke-width="0.18" style="font-family:'DejaVu Sans', sans-serif">**</text>
<text x="481.61" y="248.78" font-size="7.2" font-weight="bold" fill="#111" letter-spacing="0.13" stroke="#111" stroke-width="0.18" style="font-family:'DejaVu Sans', sans-serif">**</text>
<text x="500.81" y="253.78" font-size="7.2" font-weight="bold" fill="#111" letter-spacing="0.13" stroke="#111" stroke-width="0.18" style="font-family:'DejaVu Sans', sans-serif">**</text>
<text x="504.26" y="242.98" font-size="7.2" font-weight="bold" fill="#111" letter-spacing="0.13" stroke="#111" stroke-width="0.18" style="font-family:'DejaVu Sans', sans-serif">***</text>
<rect x="447" y="232.3" width="7.6" height="2.4" fill="#000"/>
<text x="457.5" y="235" font-size="4.6" font-weight="bold" fill="#1a1a1a" stroke="#1a1a1a" stroke-width="0.12">0 &#956;mol/L</text>
<rect x="447.3" y="237.9" width="7" height="1.8" fill="#999" stroke="#111" stroke-width="0.6"/>
<text x="457.5" y="240.3" font-size="4.6" font-weight="bold" fill="#1a1a1a" stroke="#1a1a1a" stroke-width="0.12">10 &#956;mol/L</text>
<rect x="447.3" y="243.7" width="7" height="1.8" fill="#fff" stroke="#111" stroke-width="0.6"/>
<text x="457.5" y="246.1" font-size="4.6" font-weight="bold" fill="#1a1a1a" stroke="#1a1a1a" stroke-width="0.12">20 &#956;mol/L</text>
<text x="433.8" y="257.5" font-size="4.9" text-anchor="middle" font-weight="bold" fill="#1a1a1a" stroke="#1a1a1a" stroke-width="0.12" transform="rotate(-90 433.8 257.5)">Apoptosis %</text>
<line x1="442.8" y1="297.7" x2="442.8" y2="348.1" stroke="#333" stroke-width="0.5"/>
<line x1="442.8" y1="348.1" x2="516.5" y2="348.1" stroke="#333" stroke-width="0.5"/>
<line x1="441.5" y1="348.1" x2="442.8" y2="348.1" stroke="#333" stroke-width="0.45"/>
<text x="439.9" y="349.65" font-size="4.4" text-anchor="end" font-weight="bold" fill="#1a1a1a" stroke="#1a1a1a" stroke-width="0.12">0</text>
<line x1="441.5" y1="338.02" x2="442.8" y2="338.02" stroke="#333" stroke-width="0.45"/>
<text x="439.9" y="339.57" font-size="4.4" text-anchor="end" font-weight="bold" fill="#1a1a1a" stroke="#1a1a1a" stroke-width="0.12">20</text>
<line x1="441.5" y1="327.94" x2="442.8" y2="327.94" stroke="#333" stroke-width="0.45"/>
<text x="439.9" y="329.49" font-size="4.4" text-anchor="end" font-weight="bold" fill="#1a1a1a" stroke="#1a1a1a" stroke-width="0.12">40</text>
<line x1="441.5" y1="317.86" x2="442.8" y2="317.86" stroke="#333" stroke-width="0.45"/>
<text x="439.9" y="319.41" font-size="4.4" text-anchor="end" font-weight="bold" fill="#1a1a1a" stroke="#1a1a1a" stroke-width="0.12">60</text>
<line x1="441.5" y1="307.78" x2="442.8" y2="307.78" stroke="#333" stroke-width="0.45"/>
<text x="439.9" y="309.33" font-size="4.4" text-anchor="end" font-weight="bold" fill="#1a1a1a" stroke="#1a1a1a" stroke-width="0.12">80</text>
<line x1="441.5" y1="297.7" x2="442.8" y2="297.7" stroke="#333" stroke-width="0.45"/>
<text x="439.9" y="299.25" font-size="4.4" text-anchor="end" font-weight="bold" fill="#1a1a1a" stroke="#1a1a1a" stroke-width="0.12">100</text>
<rect x="447.9" y="345.58" width="4.4" height="2.52" fill="#000"/>
<line x1="450.1" y1="345.58" x2="450.1" y2="345.08" stroke="#111" stroke-width="0.45"/>
<line x1="449.3" y1="345.08" x2="450.9" y2="345.08" stroke="#111" stroke-width="0.45"/>
<rect x="452.95" y="346.08" width="4.3" height="2.02" fill="#999" stroke="#111" stroke-width="0.5"/>
<line x1="455.1" y1="345.83" x2="455.1" y2="345.33" stroke="#111" stroke-width="0.45"/>
<line x1="454.3" y1="345.33" x2="455.9" y2="345.33" stroke="#111" stroke-width="0.45"/>
<rect x="458.25" y="345.58" width="4.8" height="2.52" fill="#fff" stroke="#111" stroke-width="0.5"/>
<line x1="460.65" y1="345.33" x2="460.65" y2="344.82" stroke="#111" stroke-width="0.45"/>
<line x1="459.85" y1="344.82" x2="461.45" y2="344.82" stroke="#111" stroke-width="0.45"/>
<rect x="473.5" y="337.01" width="4.5" height="11.09" fill="#000"/>
<line x1="475.75" y1="337.01" x2="475.75" y2="334.49" stroke="#111" stroke-width="0.45"/>
<line x1="474.95" y1="334.49" x2="476.55" y2="334.49" stroke="#111" stroke-width="0.45"/>
<rect x="478.95" y="329.7" width="4.3" height="18.4" fill="#999" stroke="#111" stroke-width="0.5"/>
<line x1="481.1" y1="329.45" x2="481.1" y2="328.44" stroke="#111" stroke-width="0.45"/>
<line x1="480.3" y1="328.44" x2="481.9" y2="328.44" stroke="#111" stroke-width="0.45"/>
<rect x="484.25" y="323.15" width="4.7" height="24.95" fill="#fff" stroke="#111" stroke-width="0.5"/>
<line x1="486.6" y1="322.9" x2="486.6" y2="322.4" stroke="#111" stroke-width="0.45"/>
<line x1="485.8" y1="322.4" x2="487.4" y2="322.4" stroke="#111" stroke-width="0.45"/>
<rect x="499.2" y="326.93" width="4.5" height="21.17" fill="#000"/>
<line x1="501.45" y1="326.93" x2="501.45" y2="325.42" stroke="#111" stroke-width="0.45"/>
<line x1="500.65" y1="325.42" x2="502.25" y2="325.42" stroke="#111" stroke-width="0.45"/>
<rect x="504.45" y="322.14" width="4.1" height="25.96" fill="#999" stroke="#111" stroke-width="0.5"/>
<line x1="506.5" y1="321.89" x2="506.5" y2="321.39" stroke="#111" stroke-width="0.45"/>
<line x1="505.7" y1="321.39" x2="507.3" y2="321.39" stroke="#111" stroke-width="0.45"/>
<rect x="509.65" y="312.06" width="4.7" height="36.04" fill="#fff" stroke="#111" stroke-width="0.5"/>
<line x1="512" y1="311.81" x2="512" y2="308.79" stroke="#111" stroke-width="0.45"/>
<line x1="511.2" y1="308.79" x2="512.8" y2="308.79" stroke="#111" stroke-width="0.45"/>
<line x1="455.6" y1="348.1" x2="455.6" y2="349.3" stroke="#333" stroke-width="0.45"/>
<text x="455.6" y="354.5" font-size="4.5" text-anchor="middle" font-weight="bold" fill="#1a1a1a" stroke="#1a1a1a" stroke-width="0.12">0</text>
<line x1="481.3" y1="348.1" x2="481.3" y2="349.3" stroke="#333" stroke-width="0.45"/>
<text x="481.3" y="354.5" font-size="4.5" text-anchor="middle" font-weight="bold" fill="#1a1a1a" stroke="#1a1a1a" stroke-width="0.12">10</text>
<line x1="506.9" y1="348.1" x2="506.9" y2="349.3" stroke="#333" stroke-width="0.45"/>
<text x="506.9" y="354.5" font-size="4.5" text-anchor="middle" font-weight="bold" fill="#1a1a1a" stroke="#1a1a1a" stroke-width="0.12">20</text>
<text x="479.26" y="327.98" font-size="7.2" font-weight="bold" fill="#111" letter-spacing="0.13" stroke="#111" stroke-width="0.18" style="font-family:'DejaVu Sans', sans-serif">*</text>
<text x="484.76" y="321.68" font-size="7.2" font-weight="bold" fill="#111" letter-spacing="0.13" stroke="#111" stroke-width="0.18" style="font-family:'DejaVu Sans', sans-serif">*</text>
<text x="504.66" y="320.78" font-size="7.2" font-weight="bold" fill="#111" letter-spacing="0.13" stroke="#111" stroke-width="0.18" style="font-family:'DejaVu Sans', sans-serif">*</text>
<text x="510.16" y="307.58" font-size="7.2" font-weight="bold" fill="#111" letter-spacing="0.13" stroke="#111" stroke-width="0.18" style="font-family:'DejaVu Sans', sans-serif">*</text>
<rect x="448.8" y="298.7" width="8.7" height="2.4" fill="#000"/>
<text x="460.4" y="301.4" font-size="4.6" font-weight="bold" fill="#1a1a1a" stroke="#1a1a1a" stroke-width="0.12">24 &#956;mol/L</text>
<rect x="449.1" y="303.9" width="8.1" height="1.8" fill="#999" stroke="#111" stroke-width="0.6"/>
<text x="460.4" y="306.3" font-size="4.6" font-weight="bold" fill="#1a1a1a" stroke="#1a1a1a" stroke-width="0.12">48 &#956;mol/L</text>
<rect x="449.1" y="309.1" width="8.1" height="1.8" fill="#fff" stroke="#111" stroke-width="0.6"/>
<text x="460.4" y="311.5" font-size="4.6" font-weight="bold" fill="#1a1a1a" stroke="#1a1a1a" stroke-width="0.12">72 &#956;mol/L</text>
<text x="431.9" y="320.8" font-size="5.3" text-anchor="middle" font-weight="bold" fill="#1a1a1a" stroke="#1a1a1a" stroke-width="0.12" transform="rotate(-90 431.9 320.8)">Apoptosis %</text>
<text x="473.6" y="363" font-size="5.6" text-anchor="middle" font-weight="bold" fill="#1a1a1a" stroke="#1a1a1a" stroke-width="0.12" textLength="89.5" lengthAdjust="spacingAndGlyphs">DCZ0415 concentration (&#956;mol/L)</text>
<text x="1" y="384" font-size="11.5" font-weight="bold" fill="#000">F</text>
<line x1="42.3" y1="387.5" x2="42.3" y2="466.5" stroke="#555" stroke-width="0.7"/>
<line x1="42.3" y1="466.5" x2="160.5" y2="466.5" stroke="#555" stroke-width="0.7"/>
<line x1="40.2" y1="466.5" x2="42.3" y2="466.5" stroke="#555" stroke-width="0.6"/>
<text x="38.8" y="468.4" font-size="5.3" text-anchor="end" font-weight="bold" fill="#2a2a2a" stroke="#2a2a2a" stroke-width="0.12">0</text>
<line x1="40.2" y1="450.7" x2="42.3" y2="450.7" stroke="#555" stroke-width="0.6"/>
<text x="38.8" y="452.6" font-size="5.3" text-anchor="end" font-weight="bold" fill="#2a2a2a" stroke="#2a2a2a" stroke-width="0.12">20</text>
<line x1="40.2" y1="434.9" x2="42.3" y2="434.9" stroke="#555" stroke-width="0.6"/>
<text x="38.8" y="436.8" font-size="5.3" text-anchor="end" font-weight="bold" fill="#2a2a2a" stroke="#2a2a2a" stroke-width="0.12">40</text>
<line x1="40.2" y1="419.1" x2="42.3" y2="419.1" stroke="#555" stroke-width="0.6"/>
<text x="38.8" y="421" font-size="5.3" text-anchor="end" font-weight="bold" fill="#2a2a2a" stroke="#2a2a2a" stroke-width="0.12">60</text>
<line x1="40.2" y1="403.3" x2="42.3" y2="403.3" stroke="#555" stroke-width="0.6"/>
<text x="38.8" y="405.2" font-size="5.3" text-anchor="end" font-weight="bold" fill="#2a2a2a" stroke="#2a2a2a" stroke-width="0.12">80</text>
<line x1="40.2" y1="387.5" x2="42.3" y2="387.5" stroke="#555" stroke-width="0.6"/>
<text x="38.8" y="389.4" font-size="5.3" text-anchor="end" font-weight="bold" fill="#2a2a2a" stroke="#2a2a2a" stroke-width="0.12">100</text>
<text x="28.4" y="421.2" font-size="5.6" text-anchor="middle" font-weight="bold" fill="#1a1a1a" stroke="#1a1a1a" stroke-width="0.12" transform="rotate(-90 28.4 421.2)">Apoptosis %</text>
<rect x="44.4" y="460.18" width="2.25" height="6.32" fill="#d6d6d2"/>
<line x1="45.5" y1="460.18" x2="45.5" y2="459.39" stroke="#999" stroke-width="0.45"/>
<line x1="44.8" y1="459.39" x2="46.2" y2="459.39" stroke="#999" stroke-width="0.45"/>
<rect x="47.02" y="460.18" width="2.25" height="6.32" fill="#e6e6dc"/>
<line x1="48.12" y1="460.18" x2="48.12" y2="459.39" stroke="#999" stroke-width="0.45"/>
<line x1="47.42" y1="459.39" x2="48.82" y2="459.39" stroke="#999" stroke-width="0.45"/>
<rect x="49.64" y="460.18" width="2.25" height="6.32" fill="#d4e6d2"/>
<line x1="50.74" y1="460.18" x2="50.74" y2="459.39" stroke="#999" stroke-width="0.45"/>
<line x1="50.04" y1="459.39" x2="51.44" y2="459.39" stroke="#999" stroke-width="0.45"/>
<rect x="52.26" y="453.07" width="2.25" height="13.43" fill="#2fae44"/>
<line x1="53.36" y1="453.07" x2="53.36" y2="451.88" stroke="#2fae44" stroke-width="0.45"/>
<line x1="52.66" y1="451.88" x2="54.06" y2="451.88" stroke="#2fae44" stroke-width="0.45"/>
<rect x="54.88" y="452.28" width="2.25" height="14.22" fill="#ef6a2e"/>
<line x1="55.98" y1="452.28" x2="55.98" y2="450.7" stroke="#ef6a2e" stroke-width="0.45"/>
<line x1="55.28" y1="450.7" x2="56.68" y2="450.7" stroke="#ef6a2e" stroke-width="0.45"/>
<rect x="57.5" y="447.94" width="2.25" height="18.57" fill="#e4201e"/>
<line x1="58.6" y1="447.94" x2="58.6" y2="444.77" stroke="#e4201e" stroke-width="0.45"/>
<line x1="57.9" y1="444.77" x2="59.3" y2="444.77" stroke="#e4201e" stroke-width="0.45"/>
<rect x="60.12" y="451.49" width="2.25" height="15.01" fill="#1f45a8"/>
<line x1="61.22" y1="451.49" x2="61.22" y2="449.12" stroke="#1f45a8" stroke-width="0.45"/>
<line x1="60.52" y1="449.12" x2="61.92" y2="449.12" stroke="#1f45a8" stroke-width="0.45"/>
<rect x="62.74" y="456.39" width="2.25" height="10.11" fill="#d070c4"/>
<line x1="63.84" y1="456.39" x2="63.84" y2="455.2" stroke="#d070c4" stroke-width="0.45"/>
<line x1="63.14" y1="455.2" x2="64.54" y2="455.2" stroke="#d070c4" stroke-width="0.45"/>
<rect x="65.36" y="454.65" width="2.25" height="11.85" fill="#8a1c22"/>
<line x1="66.46" y1="454.65" x2="66.46" y2="453.46" stroke="#8a1c22" stroke-width="0.45"/>
<line x1="65.76" y1="453.46" x2="67.16" y2="453.46" stroke="#8a1c22" stroke-width="0.45"/>
<rect x="67.98" y="458.6" width="2.25" height="7.9" fill="#137a45"/>
<line x1="69.08" y1="458.6" x2="69.08" y2="457.81" stroke="#137a45" stroke-width="0.45"/>
<line x1="68.38" y1="457.81" x2="69.78" y2="457.81" stroke="#137a45" stroke-width="0.45"/>
<rect x="70.6" y="449.91" width="2.25" height="16.59" fill="#1c2878"/>
<line x1="71.7" y1="449.91" x2="71.7" y2="448.33" stroke="#1c2878" stroke-width="0.45"/>
<line x1="71" y1="448.33" x2="72.4" y2="448.33" stroke="#1c2878" stroke-width="0.45"/>
<rect x="73.22" y="449.51" width="2.25" height="16.98" fill="#7c1c24"/>
<line x1="74.32" y1="449.51" x2="74.32" y2="447.14" stroke="#7c1c24" stroke-width="0.45"/>
<line x1="73.62" y1="447.14" x2="75.02" y2="447.14" stroke="#7c1c24" stroke-width="0.45"/>
<rect x="75.84" y="460.18" width="2.25" height="6.32" fill="#050505"/>
<line x1="76.94" y1="460.18" x2="76.94" y2="459.55" stroke="#050505" stroke-width="0.45"/>
<line x1="76.24" y1="459.55" x2="77.64" y2="459.55" stroke="#050505" stroke-width="0.45"/>
<rect x="83.4" y="454.02" width="2.25" height="12.48" fill="#d6d6d2"/>
<line x1="84.5" y1="454.02" x2="84.5" y2="453.23" stroke="#999" stroke-width="0.45"/>
<line x1="83.8" y1="453.23" x2="85.2" y2="453.23" stroke="#999" stroke-width="0.45"/>
<rect x="86.02" y="454.02" width="2.25" height="12.48" fill="#e6e6dc"/>
<line x1="87.12" y1="454.02" x2="87.12" y2="453.23" stroke="#999" stroke-width="0.45"/>
<line x1="86.42" y1="453.23" x2="87.82" y2="453.23" stroke="#999" stroke-width="0.45"/>
<rect x="88.64" y="454.02" width="2.25" height="12.48" fill="#d4e6d2"/>
<line x1="89.74" y1="454.02" x2="89.74" y2="453.23" stroke="#999" stroke-width="0.45"/>
<line x1="89.04" y1="453.23" x2="90.44" y2="453.23" stroke="#999" stroke-width="0.45"/>
<rect x="91.26" y="451.49" width="2.25" height="15.01" fill="#2fae44"/>
<line x1="92.36" y1="451.49" x2="92.36" y2="450.7" stroke="#2fae44" stroke-width="0.45"/>
<line x1="91.66" y1="450.7" x2="93.06" y2="450.7" stroke="#2fae44" stroke-width="0.45"/>
<rect x="93.88" y="447.54" width="2.25" height="18.96" fill="#ef6a2e"/>
<line x1="94.98" y1="447.54" x2="94.98" y2="445.96" stroke="#ef6a2e" stroke-width="0.45"/>
<line x1="94.28" y1="445.96" x2="95.68" y2="445.96" stroke="#ef6a2e" stroke-width="0.45"/>
<rect x="96.5" y="440.43" width="2.25" height="26.07" fill="#e4201e"/>
<line x1="97.6" y1="440.43" x2="97.6" y2="436.48" stroke="#e4201e" stroke-width="0.45"/>
<line x1="96.9" y1="436.48" x2="98.3" y2="436.48" stroke="#e4201e" stroke-width="0.45"/>
<rect x="99.12" y="438.85" width="2.25" height="27.65" fill="#1f45a8"/>
<line x1="100.22" y1="438.85" x2="100.22" y2="437.27" stroke="#1f45a8" stroke-width="0.45"/>
<line x1="99.52" y1="437.27" x2="100.92" y2="437.27" stroke="#1f45a8" stroke-width="0.45"/>
<rect x="101.74" y="438.06" width="2.25" height="28.44" fill="#d070c4"/>
<line x1="102.84" y1="438.06" x2="102.84" y2="435.69" stroke="#d070c4" stroke-width="0.45"/>
<line x1="102.14" y1="435.69" x2="103.54" y2="435.69" stroke="#d070c4" stroke-width="0.45"/>
<rect x="104.36" y="440.43" width="2.25" height="26.07" fill="#8a1c22"/>
<line x1="105.46" y1="440.43" x2="105.46" y2="438.85" stroke="#8a1c22" stroke-width="0.45"/>
<line x1="104.76" y1="438.85" x2="106.16" y2="438.85" stroke="#8a1c22" stroke-width="0.45"/>
<rect x="106.98" y="435.69" width="2.25" height="30.81" fill="#137a45"/>
<line x1="108.08" y1="435.69" x2="108.08" y2="434.5" stroke="#137a45" stroke-width="0.45"/>
<line x1="107.38" y1="434.5" x2="108.78" y2="434.5" stroke="#137a45" stroke-width="0.45"/>
<rect x="109.6" y="436.08" width="2.25" height="30.42" fill="#1c2878"/>
<line x1="110.7" y1="436.08" x2="110.7" y2="434.9" stroke="#1c2878" stroke-width="0.45"/>
<line x1="110" y1="434.9" x2="111.4" y2="434.9" stroke="#1c2878" stroke-width="0.45"/>
<rect x="112.22" y="419.89" width="2.25" height="46.61" fill="#7c1c24"/>
<line x1="113.32" y1="419.89" x2="113.32" y2="415.94" stroke="#7c1c24" stroke-width="0.45"/>
<line x1="112.62" y1="415.94" x2="114.02" y2="415.94" stroke="#7c1c24" stroke-width="0.45"/>
<rect x="114.84" y="428.98" width="2.25" height="37.52" fill="#050505"/>
<line x1="115.94" y1="428.98" x2="115.94" y2="425.81" stroke="#050505" stroke-width="0.45"/>
<line x1="115.24" y1="425.81" x2="116.64" y2="425.81" stroke="#050505" stroke-width="0.45"/>
<rect x="122.4" y="449.91" width="2.25" height="16.59" fill="#d6d6d2"/>
<line x1="123.5" y1="449.91" x2="123.5" y2="449.12" stroke="#999" stroke-width="0.45"/>
<line x1="122.8" y1="449.12" x2="124.2" y2="449.12" stroke="#999" stroke-width="0.45"/>
<rect x="125.02" y="449.91" width="2.25" height="16.59" fill="#e6e6dc"/>
<line x1="126.12" y1="449.91" x2="126.12" y2="449.12" stroke="#999" stroke-width="0.45"/>
<line x1="125.42" y1="449.12" x2="126.82" y2="449.12" stroke="#999" stroke-width="0.45"/>
<rect x="127.64" y="449.91" width="2.25" height="16.59" fill="#d4e6d2"/>
<line x1="128.74" y1="449.91" x2="128.74" y2="449.12" stroke="#999" stroke-width="0.45"/>
<line x1="128.04" y1="449.12" x2="129.44" y2="449.12" stroke="#999" stroke-width="0.45"/>
<rect x="130.26" y="448.73" width="2.25" height="17.78" fill="#2fae44"/>
<line x1="131.36" y1="448.73" x2="131.36" y2="447.54" stroke="#2fae44" stroke-width="0.45"/>
<line x1="130.66" y1="447.54" x2="132.06" y2="447.54" stroke="#2fae44" stroke-width="0.45"/>
<rect x="132.88" y="435.3" width="2.25" height="31.21" fill="#ef6a2e"/>
<line x1="133.98" y1="435.3" x2="133.98" y2="433.71" stroke="#ef6a2e" stroke-width="0.45"/>
<line x1="133.28" y1="433.71" x2="134.68" y2="433.71" stroke="#ef6a2e" stroke-width="0.45"/>
<rect x="135.5" y="436.08" width="2.25" height="30.42" fill="#e4201e"/>
<line x1="136.6" y1="436.08" x2="136.6" y2="434.5" stroke="#e4201e" stroke-width="0.45"/>
<line x1="135.9" y1="434.5" x2="137.3" y2="434.5" stroke="#e4201e" stroke-width="0.45"/>
<rect x="138.12" y="432.13" width="2.25" height="34.37" fill="#1f45a8"/>
<line x1="139.22" y1="432.13" x2="139.22" y2="429.76" stroke="#1f45a8" stroke-width="0.45"/>
<line x1="138.52" y1="429.76" x2="139.92" y2="429.76" stroke="#1f45a8" stroke-width="0.45"/>
<rect x="140.74" y="430.56" width="2.25" height="35.95" fill="#d070c4"/>
<line x1="141.84" y1="430.56" x2="141.84" y2="426.61" stroke="#d070c4" stroke-width="0.45"/>
<line x1="141.14" y1="426.61" x2="142.54" y2="426.61" stroke="#d070c4" stroke-width="0.45"/>
<rect x="143.36" y="419.89" width="2.25" height="46.61" fill="#8a1c22"/>
<line x1="144.46" y1="419.89" x2="144.46" y2="417.52" stroke="#8a1c22" stroke-width="0.45"/>
<line x1="143.76" y1="417.52" x2="145.16" y2="417.52" stroke="#8a1c22" stroke-width="0.45"/>
<rect x="145.98" y="418.31" width="2.25" height="48.19" fill="#137a45"/>
<line x1="147.08" y1="418.31" x2="147.08" y2="415.15" stroke="#137a45" stroke-width="0.45"/>
<line x1="146.38" y1="415.15" x2="147.78" y2="415.15" stroke="#137a45" stroke-width="0.45"/>
<rect x="148.6" y="410.41" width="2.25" height="56.09" fill="#1c2878"/>
<line x1="149.7" y1="410.41" x2="149.7" y2="408.83" stroke="#1c2878" stroke-width="0.45"/>
<line x1="149" y1="408.83" x2="150.4" y2="408.83" stroke="#1c2878" stroke-width="0.45"/>
<rect x="151.22" y="411.2" width="2.25" height="55.3" fill="#7c1c24"/>
<line x1="152.32" y1="411.2" x2="152.32" y2="409.62" stroke="#7c1c24" stroke-width="0.45"/>
<line x1="151.62" y1="409.62" x2="153.02" y2="409.62" stroke="#7c1c24" stroke-width="0.45"/>
<rect x="153.84" y="405.67" width="2.25" height="60.83" fill="#050505"/>
<line x1="154.94" y1="405.67" x2="154.94" y2="403.3" stroke="#050505" stroke-width="0.45"/>
<line x1="154.24" y1="403.3" x2="155.64" y2="403.3" stroke="#050505" stroke-width="0.45"/>
<line x1="60.7" y1="466.5" x2="60.7" y2="468.1" stroke="#555" stroke-width="0.6"/>
<text x="60.7" y="473.6" font-size="4.3" text-anchor="middle" font-weight="bold" fill="#222" stroke="#222" stroke-width="0.12">0</text>
<line x1="99.3" y1="466.5" x2="99.3" y2="468.1" stroke="#555" stroke-width="0.6"/>
<text x="99.3" y="473.6" font-size="4.3" text-anchor="middle" font-weight="bold" fill="#222" stroke="#222" stroke-width="0.12">20</text>
<line x1="139.2" y1="466.5" x2="139.2" y2="468.1" stroke="#555" stroke-width="0.6"/>
<text x="139.2" y="473.6" font-size="4.3" text-anchor="middle" font-weight="bold" fill="#222" stroke="#222" stroke-width="0.12">40</text>
<text x="101.9" y="480.4" font-size="4.9" text-anchor="middle" font-weight="bold" fill="#1a1a1a" stroke="#1a1a1a" stroke-width="0.12" textLength="86.2" lengthAdjust="spacingAndGlyphs">DCZ0415 concentration (&#956;mol/L)</text>
<rect x="48.1" y="387.5" width="8.3" height="2.2" fill="#d6d6d2"/>
<text x="58" y="390.35" font-size="4.8" font-weight="bold" fill="#222" stroke="#222" stroke-width="0.12">PBMCs#1</text>
<rect x="48.1" y="393.5" width="8.3" height="2.2" fill="#e6e6dc"/>
<text x="58" y="396.35" font-size="4.8" font-weight="bold" fill="#222" stroke="#222" stroke-width="0.12">PBMCs#2</text>
<rect x="48.1" y="399.5" width="8.3" height="2.2" fill="#d4e6d2"/>
<text x="58" y="402.35" font-size="4.8" font-weight="bold" fill="#222" stroke="#222" stroke-width="0.12">PBMCs#3</text>
<rect x="48.1" y="405.5" width="8.3" height="2.2" fill="#2fae44"/>
<text x="58" y="408.35" font-size="4.8" font-weight="bold" fill="#222" stroke="#222" stroke-width="0.12">Pt#1</text>
<rect x="48.1" y="411.5" width="8.3" height="2.2" fill="#ef6a2e"/>
<text x="58" y="414.35" font-size="4.8" font-weight="bold" fill="#222" stroke="#222" stroke-width="0.12">Pt#2</text>
<rect x="83.4" y="387.5" width="8.3" height="2.2" fill="#e4201e"/>
<text x="93.3" y="390.35" font-size="4.8" font-weight="bold" fill="#222" stroke="#222" stroke-width="0.12">Pt#3</text>
<rect x="83.4" y="393.5" width="8.3" height="2.2" fill="#1f45a8"/>
<text x="93.3" y="396.35" font-size="4.8" font-weight="bold" fill="#222" stroke="#222" stroke-width="0.12">Pt#4</text>
<rect x="83.4" y="399.5" width="8.3" height="2.2" fill="#d070c4"/>
<text x="93.3" y="402.35" font-size="4.8" font-weight="bold" fill="#222" stroke="#222" stroke-width="0.12">Pt#5</text>
<rect x="83.4" y="405.5" width="8.3" height="2.2" fill="#8a1c22"/>
<text x="93.3" y="408.35" font-size="4.8" font-weight="bold" fill="#222" stroke="#222" stroke-width="0.12">Pt#6</text>
<rect x="83.4" y="411.5" width="8.3" height="2.2" fill="#137a45"/>
<text x="93.3" y="414.35" font-size="4.8" font-weight="bold" fill="#222" stroke="#222" stroke-width="0.12">Pt#7</text>
<rect x="108.1" y="387.5" width="8.3" height="2.2" fill="#1c2878"/>
<text x="118" y="390.35" font-size="4.8" font-weight="bold" fill="#222" stroke="#222" stroke-width="0.12">Pt#8</text>
<rect x="108.1" y="393.5" width="8.3" height="2.2" fill="#7c1c24"/>
<text x="118" y="396.35" font-size="4.8" font-weight="bold" fill="#222" stroke="#222" stroke-width="0.12">Pt#9</text>
<rect x="108.1" y="399.5" width="8.3" height="2.2" fill="#050505"/>
<text x="118" y="402.35" font-size="4.8" font-weight="bold" fill="#222" stroke="#222" stroke-width="0.12">Pt#10</text>
<text x="32.9" y="497.8" font-size="6.9" text-anchor="middle" fill="#111" stroke="#111" stroke-width="0.2">PBMCs#1</text>
<text x="59.9" y="497.8" font-size="6.9" text-anchor="middle" fill="#111" stroke="#111" stroke-width="0.2">#2</text>
<text x="82.9" y="497.8" font-size="6.9" text-anchor="middle" fill="#111" stroke="#111" stroke-width="0.2">Pt#2</text>
<text x="104.8" y="497.8" font-size="6.9" text-anchor="middle" fill="#111" stroke="#111" stroke-width="0.2">Pt#3</text>
<text x="129.1" y="497.8" font-size="6.9" text-anchor="middle" fill="#111" stroke="#111" stroke-width="0.2">Pt#9</text>
<text x="155" y="497.8" font-size="6.9" text-anchor="middle" fill="#111" stroke="#111" stroke-width="0.2">Pt#10</text>
<rect x="23.8" y="505.4" width="132.6" height="12.8" fill="#e9e9e9"/>
<rect x="23.8" y="523" width="132.6" height="10.3" fill="#e2e2e2"/>
<rect x="26.3" y="527.2" width="18.7" height="2.8" rx="1.2" fill="#111" filter="url(#bl03)"/>
<rect x="26.3" y="510.2" width="18.7" height="2.2" rx="1" fill="#c8c8c8" opacity="0.4" filter="url(#bl05)"/>
<rect x="49.2" y="527.2" width="16.8" height="2.8" rx="1.2" fill="#111" filter="url(#bl03)"/>
<rect x="49.2" y="510.2" width="16.8" height="2.2" rx="1" fill="#c8c8c8" opacity="0.55" filter="url(#bl05)"/>
<rect x="71.5" y="527.2" width="17" height="2.8" rx="1.2" fill="#111" filter="url(#bl03)"/>
<rect x="71.5" y="510.2" width="17" height="2.2" rx="1" fill="#c8c8c8" opacity="0.7" filter="url(#bl05)"/>
<rect x="92.3" y="527.2" width="18.2" height="2.8" rx="1.2" fill="#111" filter="url(#bl03)"/>
<rect x="92.3" y="510.2" width="18.2" height="2.2" rx="1" fill="#c8c8c8" opacity="0.85" filter="url(#bl05)"/>
<rect x="115.2" y="527.2" width="20.6" height="2.8" rx="1.2" fill="#111" filter="url(#bl03)"/>
<rect x="115.2" y="507.4" width="20.6" height="7.8" rx="2.4" fill="#2a2a2a" opacity="0.5" filter="url(#bl08)"/>
<rect x="115.7" y="508.3" width="19.6" height="6.0" rx="2.2" fill="#111" filter="url(#bl04)"/>
<rect x="136.8" y="527.2" width="18.6" height="2.8" rx="1.2" fill="#111" filter="url(#bl03)"/>
<rect x="136.8" y="507.4" width="18.6" height="7.8" rx="2.4" fill="#2a2a2a" opacity="0.5" filter="url(#bl08)"/>
<rect x="137.3" y="508.3" width="17.6" height="6.0" rx="2.2" fill="#111" filter="url(#bl04)"/>
<text x="160.3" y="513.4" font-size="6.6" fill="#111" stroke="#111" stroke-width="0.2">TRIP13</text>
<text x="160.3" y="531.4" font-size="6.6" fill="#111" stroke="#111" stroke-width="0.2">&#946;-Actin</text>
<text x="264.2" y="392.3" font-size="11" font-weight="bold" fill="#000">G</text>
<text x="315.2" y="391.7" font-size="8" text-anchor="middle" fill="#111" stroke="#111" stroke-width="0.25" textLength="26.5" lengthAdjust="spacingAndGlyphs">Control</text>
<text x="366.8" y="391.7" font-size="8" text-anchor="middle" fill="#111" stroke="#111" stroke-width="0.25" textLength="37.6" lengthAdjust="spacingAndGlyphs">DCZ0415</text>
<text x="317.1" y="453.8" font-size="7" text-anchor="middle" fill="#111" stroke="#111" stroke-width="0.25" textLength="38.1" lengthAdjust="spacingAndGlyphs">V-ZAD-FMK</text>
<text x="364.8" y="448.6" font-size="7" text-anchor="middle" fill="#111" stroke="#111" stroke-width="0.25" textLength="34.2" lengthAdjust="spacingAndGlyphs">DCZ0415+</text>
<text x="366.7" y="460.7" font-size="7" text-anchor="middle" fill="#111" stroke="#111" stroke-width="0.25" textLength="38.1" lengthAdjust="spacingAndGlyphs">V-ZAD-FMK</text>
<rect x="295.9" y="397.5" width="36.1" height="36.5" fill="#fff" stroke="#b0b0b0" stroke-width="0.5"/>
<line x1="295" y1="401.15" x2="295.9" y2="401.15" stroke="#999" stroke-width="0.35"/>
<text x="294.8" y="401.95" font-size="2.3" text-anchor="end" fill="#9a9a9a" stroke="#9a9a9a" stroke-width="0.1">10</text>
<line x1="295" y1="409.18" x2="295.9" y2="409.18" stroke="#999" stroke-width="0.35"/>
<text x="294.8" y="409.98" font-size="2.3" text-anchor="end" fill="#9a9a9a" stroke="#9a9a9a" stroke-width="0.1">10</text>
<line x1="295" y1="417.94" x2="295.9" y2="417.94" stroke="#999" stroke-width="0.35"/>
<text x="294.8" y="418.74" font-size="2.3" text-anchor="end" fill="#9a9a9a" stroke="#9a9a9a" stroke-width="0.1">10</text>
<line x1="295" y1="426.7" x2="295.9" y2="426.7" stroke="#999" stroke-width="0.35"/>
<text x="294.8" y="427.5" font-size="2.3" text-anchor="end" fill="#9a9a9a" stroke="#9a9a9a" stroke-width="0.1">10</text>
<line x1="295" y1="431.44" x2="295.9" y2="431.44" stroke="#999" stroke-width="0.35"/>
<text x="294.8" y="432.25" font-size="2.3" text-anchor="end" fill="#9a9a9a" stroke="#9a9a9a" stroke-width="0.1">10</text>
<text x="291.3" y="415.75" font-size="2.3" text-anchor="middle" fill="#8a8a8a" stroke="#8a8a8a" stroke-width="0.1" transform="rotate(-90 291.3 415.75)">PI-A</text>
<line x1="300.23" y1="434" x2="300.23" y2="434.9" stroke="#999" stroke-width="0.35"/>
<text x="300.23" y="437" font-size="2.3" text-anchor="middle" fill="#a0a0a0">10</text>
<line x1="308.9" y1="434" x2="308.9" y2="434.9" stroke="#999" stroke-width="0.35"/>
<text x="308.9" y="437" font-size="2.3" text-anchor="middle" fill="#a0a0a0">10</text>
<line x1="317.56" y1="434" x2="317.56" y2="434.9" stroke="#999" stroke-width="0.35"/>
<text x="317.56" y="437" font-size="2.3" text-anchor="middle" fill="#a0a0a0">10</text>
<line x1="326.22" y1="434" x2="326.22" y2="434.9" stroke="#999" stroke-width="0.35"/>
<text x="326.22" y="437" font-size="2.3" text-anchor="middle" fill="#a0a0a0">10</text>
<text x="313.95" y="439.6" font-size="2.3" text-anchor="middle" fill="#a8a8a8">Annexin-V</text>
<ellipse cx="317.4" cy="424" rx="6" ry="1.8" fill="#f4b8c0" opacity="0.55" filter="url(#bl08)" transform="rotate(25 317.4 424)"/>
<ellipse cx="317.9" cy="411.5" rx="3" ry="5" fill="#f6d0d6" opacity="0.35" filter="url(#bl1)" transform="rotate(20 317.9 411.5)"/>
<ellipse cx="317.9" cy="411.5" rx="2.4" ry="4.2" fill="none" stroke="#eaa0aa" stroke-width="0.35" opacity="0.3" filter="url(#bl03)" transform="rotate(20 317.9 411.5)"/>
<line x1="312.6" y1="397.5" x2="312.6" y2="434" stroke="#858585" stroke-width="0.9"/>
<line x1="295.9" y1="419" x2="332" y2="419" stroke="#858585" stroke-width="0.9"/>
<ellipse cx="307.2" cy="425.2" rx="5" ry="4.6" fill="#f09090" opacity="0.55" filter="url(#bl08)"/>
<ellipse cx="306.6" cy="424.8" rx="3.7" ry="3.6" fill="#d81818" opacity="1" filter="url(#bl04)"/>
<ellipse cx="306.6" cy="424.8" rx="2.7" ry="2.6" fill="none" stroke="#f04848" stroke-width="0.4" opacity="0.8"/>
<ellipse cx="306.2" cy="424.5" rx="1.7" ry="1.6" fill="#980606" opacity="0.85" filter="url(#bl04)"/>
<rect x="348" y="398" width="36.2" height="36" fill="#fff" stroke="#b0b0b0" stroke-width="0.5"/>
<line x1="347.1" y1="401.6" x2="348" y2="401.6" stroke="#999" stroke-width="0.35"/>
<text x="346.9" y="402.4" font-size="2.3" text-anchor="end" fill="#9a9a9a" stroke="#9a9a9a" stroke-width="0.1">10</text>
<line x1="347.1" y1="409.52" x2="348" y2="409.52" stroke="#999" stroke-width="0.35"/>
<text x="346.9" y="410.32" font-size="2.3" text-anchor="end" fill="#9a9a9a" stroke="#9a9a9a" stroke-width="0.1">10</text>
<line x1="347.1" y1="418.16" x2="348" y2="418.16" stroke="#999" stroke-width="0.35"/>
<text x="346.9" y="418.96" font-size="2.3" text-anchor="end" fill="#9a9a9a" stroke="#9a9a9a" stroke-width="0.1">10</text>
<line x1="347.1" y1="426.8" x2="348" y2="426.8" stroke="#999" stroke-width="0.35"/>
<text x="346.9" y="427.6" font-size="2.3" text-anchor="end" fill="#9a9a9a" stroke="#9a9a9a" stroke-width="0.1">10</text>
<line x1="347.1" y1="431.48" x2="348" y2="431.48" stroke="#999" stroke-width="0.35"/>
<text x="346.9" y="432.28" font-size="2.3" text-anchor="end" fill="#9a9a9a" stroke="#9a9a9a" stroke-width="0.1">10</text>
<text x="343.4" y="416" font-size="2.3" text-anchor="middle" fill="#8a8a8a" stroke="#8a8a8a" stroke-width="0.1" transform="rotate(-90 343.4 416)">PI-A</text>
<line x1="352.34" y1="434" x2="352.34" y2="434.9" stroke="#999" stroke-width="0.35"/>
<text x="352.34" y="437" font-size="2.3" text-anchor="middle" fill="#a0a0a0">10</text>
<line x1="361.03" y1="434" x2="361.03" y2="434.9" stroke="#999" stroke-width="0.35"/>
<text x="361.03" y="437" font-size="2.3" text-anchor="middle" fill="#a0a0a0">10</text>
<line x1="369.72" y1="434" x2="369.72" y2="434.9" stroke="#999" stroke-width="0.35"/>
<text x="369.72" y="437" font-size="2.3" text-anchor="middle" fill="#a0a0a0">10</text>
<line x1="378.41" y1="434" x2="378.41" y2="434.9" stroke="#999" stroke-width="0.35"/>
<text x="378.41" y="437" font-size="2.3" text-anchor="middle" fill="#a0a0a0">10</text>
<text x="366.1" y="439.6" font-size="2.3" text-anchor="middle" fill="#a8a8a8">Annexin-V</text>
<ellipse cx="371" cy="411" rx="5" ry="7.5" fill="#f6c4cc" opacity="0.7" filter="url(#bl08)"/>
<ellipse cx="371" cy="410.5" rx="4.6" ry="7.0" fill="none" stroke="#e06878" stroke-width="0.4" opacity="0.55" filter="url(#bl03)"/>
<ellipse cx="371" cy="410.5" rx="3.4" ry="5.4" fill="none" stroke="#e06878" stroke-width="0.4" opacity="0.55" filter="url(#bl03)"/>
<ellipse cx="371" cy="410.5" rx="2.2" ry="3.8" fill="none" stroke="#e06878" stroke-width="0.4" opacity="0.55" filter="url(#bl03)"/>
<ellipse cx="371" cy="410.5" rx="1.1" ry="2.2" fill="none" stroke="#e06878" stroke-width="0.4" opacity="0.55" filter="url(#bl03)"/>
<ellipse cx="372.5" cy="426" rx="1.6" ry="6" fill="#f0a8b4" opacity="0.55" filter="url(#bl08)"/>
<ellipse cx="372.5" cy="426" rx="1.2" ry="5.0" fill="none" stroke="#e06878" stroke-width="0.4" opacity="0.5" filter="url(#bl03)"/>
<ellipse cx="364.5" cy="427" rx="5" ry="1.6" fill="#f4b8c0" opacity="0.5" filter="url(#bl08)" transform="rotate(20 364.5 427)"/>
<line x1="364.6" y1="398" x2="364.6" y2="434" stroke="#858585" stroke-width="0.9"/>
<line x1="348" y1="419.4" x2="384.2" y2="419.4" stroke="#858585" stroke-width="0.9"/>
<ellipse cx="359.6" cy="425.4" rx="5" ry="4.6" fill="#f09090" opacity="0.55" filter="url(#bl08)"/>
<ellipse cx="359" cy="425" rx="3.7" ry="3.6" fill="#d81818" opacity="1" filter="url(#bl04)"/>
<ellipse cx="359" cy="425" rx="2.7" ry="2.6" fill="none" stroke="#f04848" stroke-width="0.4" opacity="0.8"/>
<ellipse cx="358.6" cy="424.7" rx="1.7" ry="1.6" fill="#980606" opacity="0.85" filter="url(#bl04)"/>
<rect x="296.3" y="463" width="36" height="35.8" fill="#fff" stroke="#b0b0b0" stroke-width="0.5"/>
<line x1="295.4" y1="466.58" x2="296.3" y2="466.58" stroke="#999" stroke-width="0.35"/>
<text x="295.2" y="467.38" font-size="2.3" text-anchor="end" fill="#9a9a9a" stroke="#9a9a9a" stroke-width="0.1">10</text>
<line x1="295.4" y1="474.46" x2="296.3" y2="474.46" stroke="#999" stroke-width="0.35"/>
<text x="295.2" y="475.26" font-size="2.3" text-anchor="end" fill="#9a9a9a" stroke="#9a9a9a" stroke-width="0.1">10</text>
<line x1="295.4" y1="483.05" x2="296.3" y2="483.05" stroke="#999" stroke-width="0.35"/>
<text x="295.2" y="483.85" font-size="2.3" text-anchor="end" fill="#9a9a9a" stroke="#9a9a9a" stroke-width="0.1">10</text>
<line x1="295.4" y1="491.64" x2="296.3" y2="491.64" stroke="#999" stroke-width="0.35"/>
<text x="295.2" y="492.44" font-size="2.3" text-anchor="end" fill="#9a9a9a" stroke="#9a9a9a" stroke-width="0.1">10</text>
<line x1="295.4" y1="496.29" x2="296.3" y2="496.29" stroke="#999" stroke-width="0.35"/>
<text x="295.2" y="497.09" font-size="2.3" text-anchor="end" fill="#9a9a9a" stroke="#9a9a9a" stroke-width="0.1">10</text>
<text x="291.7" y="480.9" font-size="2.3" text-anchor="middle" fill="#8a8a8a" stroke="#8a8a8a" stroke-width="0.1" transform="rotate(-90 291.7 480.9)">PI-A</text>
<line x1="300.62" y1="498.8" x2="300.62" y2="499.7" stroke="#999" stroke-width="0.35"/>
<text x="300.62" y="501.8" font-size="2.3" text-anchor="middle" fill="#a0a0a0">10</text>
<line x1="309.26" y1="498.8" x2="309.26" y2="499.7" stroke="#999" stroke-width="0.35"/>
<text x="309.26" y="501.8" font-size="2.3" text-anchor="middle" fill="#a0a0a0">10</text>
<line x1="317.9" y1="498.8" x2="317.9" y2="499.7" stroke="#999" stroke-width="0.35"/>
<text x="317.9" y="501.8" font-size="2.3" text-anchor="middle" fill="#a0a0a0">10</text>
<line x1="326.54" y1="498.8" x2="326.54" y2="499.7" stroke="#999" stroke-width="0.35"/>
<text x="326.54" y="501.8" font-size="2.3" text-anchor="middle" fill="#a0a0a0">10</text>
<text x="314.3" y="504.4" font-size="2.3" text-anchor="middle" fill="#a8a8a8">Annexin-V</text>
<ellipse cx="317.8" cy="489.5" rx="6" ry="1.8" fill="#f4b8c0" opacity="0.55" filter="url(#bl08)" transform="rotate(25 317.8 489.5)"/>
<ellipse cx="318.3" cy="477" rx="3" ry="5" fill="#f6d0d6" opacity="0.35" filter="url(#bl1)" transform="rotate(20 318.3 477)"/>
<ellipse cx="318.3" cy="477" rx="2.4" ry="4.2" fill="none" stroke="#eaa0aa" stroke-width="0.35" opacity="0.3" filter="url(#bl03)" transform="rotate(20 318.3 477)"/>
<line x1="313.1" y1="463" x2="313.1" y2="498.8" stroke="#858585" stroke-width="0.9"/>
<line x1="296.3" y1="484.8" x2="332.3" y2="484.8" stroke="#858585" stroke-width="0.9"/>
<ellipse cx="308.5" cy="489.9" rx="5" ry="4.6" fill="#f09090" opacity="0.55" filter="url(#bl08)"/>
<ellipse cx="307.9" cy="489.5" rx="3.7" ry="3.6" fill="#d81818" opacity="1" filter="url(#bl04)"/>
<ellipse cx="307.9" cy="489.5" rx="2.7" ry="2.6" fill="none" stroke="#f04848" stroke-width="0.4" opacity="0.8"/>
<ellipse cx="307.5" cy="489.2" rx="1.7" ry="1.6" fill="#980606" opacity="0.85" filter="url(#bl04)"/>
<rect x="347.5" y="462.8" width="36.2" height="36" fill="#fff" stroke="#b0b0b0" stroke-width="0.5"/>
<line x1="346.6" y1="466.4" x2="347.5" y2="466.4" stroke="#999" stroke-width="0.35"/>
<text x="346.4" y="467.2" font-size="2.3" text-anchor="end" fill="#9a9a9a" stroke="#9a9a9a" stroke-width="0.1">10</text>
<line x1="346.6" y1="474.32" x2="347.5" y2="474.32" stroke="#999" stroke-width="0.35"/>
<text x="346.4" y="475.12" font-size="2.3" text-anchor="end" fill="#9a9a9a" stroke="#9a9a9a" stroke-width="0.1">10</text>
<line x1="346.6" y1="482.96" x2="347.5" y2="482.96" stroke="#999" stroke-width="0.35"/>
<text x="346.4" y="483.76" font-size="2.3" text-anchor="end" fill="#9a9a9a" stroke="#9a9a9a" stroke-width="0.1">10</text>
<line x1="346.6" y1="491.6" x2="347.5" y2="491.6" stroke="#999" stroke-width="0.35"/>
<text x="346.4" y="492.4" font-size="2.3" text-anchor="end" fill="#9a9a9a" stroke="#9a9a9a" stroke-width="0.1">10</text>
<line x1="346.6" y1="496.28" x2="347.5" y2="496.28" stroke="#999" stroke-width="0.35"/>
<text x="346.4" y="497.08" font-size="2.3" text-anchor="end" fill="#9a9a9a" stroke="#9a9a9a" stroke-width="0.1">10</text>
<text x="342.9" y="480.8" font-size="2.3" text-anchor="middle" fill="#8a8a8a" stroke="#8a8a8a" stroke-width="0.1" transform="rotate(-90 342.9 480.8)">PI-A</text>
<line x1="351.84" y1="498.8" x2="351.84" y2="499.7" stroke="#999" stroke-width="0.35"/>
<text x="351.84" y="501.8" font-size="2.3" text-anchor="middle" fill="#a0a0a0">10</text>
<line x1="360.53" y1="498.8" x2="360.53" y2="499.7" stroke="#999" stroke-width="0.35"/>
<text x="360.53" y="501.8" font-size="2.3" text-anchor="middle" fill="#a0a0a0">10</text>
<line x1="369.22" y1="498.8" x2="369.22" y2="499.7" stroke="#999" stroke-width="0.35"/>
<text x="369.22" y="501.8" font-size="2.3" text-anchor="middle" fill="#a0a0a0">10</text>
<line x1="377.91" y1="498.8" x2="377.91" y2="499.7" stroke="#999" stroke-width="0.35"/>
<text x="377.91" y="501.8" font-size="2.3" text-anchor="middle" fill="#a0a0a0">10</text>
<text x="365.6" y="504.4" font-size="2.3" text-anchor="middle" fill="#a8a8a8">Annexin-V</text>
<ellipse cx="369" cy="489.3" rx="6" ry="1.8" fill="#f4b8c0" opacity="0.55" filter="url(#bl08)" transform="rotate(25 369 489.3)"/>
<ellipse cx="369.5" cy="476.8" rx="3" ry="5" fill="#f6d0d6" opacity="0.35" filter="url(#bl1)" transform="rotate(20 369.5 476.8)"/>
<ellipse cx="369.5" cy="476.8" rx="2.4" ry="4.2" fill="none" stroke="#eaa0aa" stroke-width="0.35" opacity="0.3" filter="url(#bl03)" transform="rotate(20 369.5 476.8)"/>
<line x1="364.6" y1="462.8" x2="364.6" y2="498.8" stroke="#858585" stroke-width="0.9"/>
<line x1="347.5" y1="484.4" x2="383.7" y2="484.4" stroke="#858585" stroke-width="0.9"/>
<ellipse cx="359.1" cy="489.6" rx="5" ry="4.6" fill="#f09090" opacity="0.55" filter="url(#bl08)"/>
<ellipse cx="358.5" cy="489.2" rx="3.7" ry="3.6" fill="#d81818" opacity="1" filter="url(#bl04)"/>
<ellipse cx="358.5" cy="489.2" rx="2.7" ry="2.6" fill="none" stroke="#f04848" stroke-width="0.4" opacity="0.8"/>
<ellipse cx="358.1" cy="488.9" rx="1.7" ry="1.6" fill="#980606" opacity="0.85" filter="url(#bl04)"/>
<line x1="284.2" y1="434.8" x2="284.2" y2="511.7" stroke="#666" stroke-width="0.7"/>
<path d="M284.2 432.4 L283.0 435.4 L285.4 435.4 Z" fill="#666"/>
<line x1="284.2" y1="511.7" x2="361" y2="511.7" stroke="#666" stroke-width="0.7"/>
<path d="M363.2 511.7 L360.2 510.5 L360.2 512.9 Z" fill="#666"/>
<text x="270.6" y="475" font-size="10" font-weight="bold" fill="#111" stroke="#111" stroke-width="0.3">PI</text>
<text x="305.4" y="523.7" font-size="10" font-weight="bold" fill="#111" textLength="49.6" lengthAdjust="spacingAndGlyphs">Annexin-V</text>
<line x1="429.5" y1="406.3" x2="429.5" y2="463.8" stroke="#333" stroke-width="0.55"/>
<line x1="429.5" y1="463.8" x2="515.5" y2="463.8" stroke="#333" stroke-width="0.55"/>
<line x1="427.3" y1="463.8" x2="429.5" y2="463.8" stroke="#333" stroke-width="0.45"/>
<text x="425.3" y="465.4" font-size="4.6" text-anchor="end" font-weight="bold" fill="#222" stroke="#222" stroke-width="0.12">0</text>
<line x1="427.3" y1="449.43" x2="429.5" y2="449.43" stroke="#333" stroke-width="0.45"/>
<text x="425.3" y="451.03" font-size="4.6" text-anchor="end" font-weight="bold" fill="#222" stroke="#222" stroke-width="0.12">20</text>
<line x1="427.3" y1="435.05" x2="429.5" y2="435.05" stroke="#333" stroke-width="0.45"/>
<text x="425.3" y="436.65" font-size="4.6" text-anchor="end" font-weight="bold" fill="#222" stroke="#222" stroke-width="0.12">40</text>
<line x1="427.3" y1="420.68" x2="429.5" y2="420.68" stroke="#333" stroke-width="0.45"/>
<text x="425.3" y="422.28" font-size="4.6" text-anchor="end" font-weight="bold" fill="#222" stroke="#222" stroke-width="0.12">60</text>
<line x1="427.3" y1="406.3" x2="429.5" y2="406.3" stroke="#333" stroke-width="0.45"/>
<text x="425.3" y="407.9" font-size="4.6" text-anchor="end" font-weight="bold" fill="#222" stroke="#222" stroke-width="0.12">80</text>
<text x="416" y="435.5" font-size="5.3" text-anchor="middle" font-weight="bold" fill="#1a1a1a" stroke="#1a1a1a" stroke-width="0.12" transform="rotate(-90 416 435.5)">Apoptosis %</text>
<rect x="434.5" y="461.21" width="10.5" height="2.59" fill="#000"/>
<line x1="439.75" y1="461.21" x2="439.75" y2="460.71" stroke="#111" stroke-width="0.6"/>
<line x1="438.15" y1="460.71" x2="441.35" y2="460.71" stroke="#111" stroke-width="0.6"/>
<rect x="456.3" y="428.58" width="10" height="35.22" fill="#000"/>
<line x1="461.3" y1="428.58" x2="461.3" y2="427.86" stroke="#111" stroke-width="0.6"/>
<line x1="459.7" y1="427.86" x2="462.9" y2="427.86" stroke="#111" stroke-width="0.6"/>
<rect x="478" y="456.97" width="10.3" height="6.83" fill="#000"/>
<line x1="483.15" y1="456.97" x2="483.15" y2="455.53" stroke="#111" stroke-width="0.6"/>
<line x1="481.55" y1="455.53" x2="484.75" y2="455.53" stroke="#111" stroke-width="0.6"/>
<rect x="500" y="444.39" width="10.5" height="19.41" fill="#000"/>
<line x1="505.25" y1="444.39" x2="505.25" y2="439" stroke="#111" stroke-width="0.6"/>
<line x1="503.65" y1="439" x2="506.85" y2="439" stroke="#111" stroke-width="0.6"/>
<path d="M461.2 421.2 V413.8 H505.6 V422.6" fill="none" stroke="#333" stroke-width="0.7"/>
<text x="481.36" y="413.38" font-size="7.2" font-weight="bold" fill="#111" letter-spacing="0" stroke="#111" stroke-width="0.18" style="font-family:'DejaVu Sans', sans-serif">*</text>
<text x="431.7" y="479" font-size="8" text-anchor="end" fill="#111" stroke="#111" stroke-width="0.25" textLength="34.7" lengthAdjust="spacingAndGlyphs">DCZ0415</text>
<text x="432.8" y="491.6" font-size="8" text-anchor="end" fill="#111" stroke="#111" stroke-width="0.25" textLength="43.8" lengthAdjust="spacingAndGlyphs">V-ZAD-FMK</text>
<text x="441.3" y="479" font-size="7.6" text-anchor="middle" font-weight="bold" fill="#111" stroke="#111" stroke-width="0.12">&#8211;</text>
<text x="441.3" y="491.6" font-size="7.6" text-anchor="middle" font-weight="bold" fill="#111" stroke="#111" stroke-width="0.12">&#8211;</text>
<text x="461.3" y="479" font-size="7.6" text-anchor="middle" font-weight="bold" fill="#111" stroke="#111" stroke-width="0.12">+</text>
<text x="461.3" y="491.6" font-size="7.6" text-anchor="middle" font-weight="bold" fill="#111" stroke="#111" stroke-width="0.12">&#8211;</text>
<text x="483" y="479" font-size="7.6" text-anchor="middle" font-weight="bold" fill="#111" stroke="#111" stroke-width="0.12">&#8211;</text>
<text x="483" y="491.6" font-size="7.6" text-anchor="middle" font-weight="bold" fill="#111" stroke="#111" stroke-width="0.12">+</text>
<text x="505.5" y="479" font-size="7.6" text-anchor="middle" font-weight="bold" fill="#111" stroke="#111" stroke-width="0.12">+</text>
<text x="505.5" y="491.6" font-size="7.6" text-anchor="middle" font-weight="bold" fill="#111" stroke="#111" stroke-width="0.12">+</text>
<text x="1.2" y="552.5" font-size="11.5" font-weight="bold" fill="#000">H</text>
<line x1="45.4" y1="555.5" x2="45.4" y2="631.2" stroke="#333" stroke-width="0.7"/>
<line x1="45.4" y1="631.2" x2="157.3" y2="631.2" stroke="#333" stroke-width="0.7"/>
<line x1="42.2" y1="631.2" x2="45.4" y2="631.2" stroke="#333" stroke-width="0.6"/>
<text x="39.9" y="633.3" font-size="5.8" text-anchor="end" font-weight="bold" fill="#1a1a1a" stroke="#1a1a1a" stroke-width="0.12">0</text>
<line x1="42.2" y1="618.58" x2="45.4" y2="618.58" stroke="#333" stroke-width="0.6"/>
<text x="39.9" y="620.68" font-size="5.8" text-anchor="end" font-weight="bold" fill="#1a1a1a" stroke="#1a1a1a" stroke-width="0.12">20</text>
<line x1="42.2" y1="605.97" x2="45.4" y2="605.97" stroke="#333" stroke-width="0.6"/>
<text x="39.9" y="608.07" font-size="5.8" text-anchor="end" font-weight="bold" fill="#1a1a1a" stroke="#1a1a1a" stroke-width="0.12">40</text>
<line x1="42.2" y1="593.35" x2="45.4" y2="593.35" stroke="#333" stroke-width="0.6"/>
<text x="39.9" y="595.45" font-size="5.8" text-anchor="end" font-weight="bold" fill="#1a1a1a" stroke="#1a1a1a" stroke-width="0.12">60</text>
<line x1="42.2" y1="580.73" x2="45.4" y2="580.73" stroke="#333" stroke-width="0.6"/>
<text x="39.9" y="582.83" font-size="5.8" text-anchor="end" font-weight="bold" fill="#1a1a1a" stroke="#1a1a1a" stroke-width="0.12">80</text>
<line x1="42.2" y1="568.12" x2="45.4" y2="568.12" stroke="#333" stroke-width="0.6"/>
<text x="39.9" y="570.22" font-size="5.8" text-anchor="end" font-weight="bold" fill="#1a1a1a" stroke="#1a1a1a" stroke-width="0.12">100</text>
<line x1="42.2" y1="555.5" x2="45.4" y2="555.5" stroke="#333" stroke-width="0.6"/>
<text x="39.9" y="557.6" font-size="5.8" text-anchor="end" font-weight="bold" fill="#1a1a1a" stroke="#1a1a1a" stroke-width="0.12">120</text>
<text x="26.6" y="597" font-size="5.7" text-anchor="middle" font-weight="bold" fill="#1a1a1a" stroke="#1a1a1a" stroke-width="0.12" transform="rotate(-90 26.6 597)">Cell cycle (%)</text>
<rect x="50.8" y="568.12" width="25.4" height="17.03" fill="#000"/>
<rect x="50.8" y="585.15" width="25.4" height="23.34" fill="#9a9a9a"/>
<rect x="50.8" y="608.49" width="25.4" height="22.71" fill="#fff"/>
<rect x="51.2" y="568.52" width="24.6" height="62.68" fill="none" stroke="#111" stroke-width="0.8"/>
<line x1="50.8" y1="585.15" x2="76.2" y2="585.15" stroke="#111" stroke-width="0.6"/>
<line x1="50.8" y1="608.49" x2="76.2" y2="608.49" stroke="#111" stroke-width="0.8"/>
<rect x="88.8" y="568.12" width="25.4" height="10.72" fill="#000"/>
<rect x="88.8" y="578.84" width="25.4" height="17.03" fill="#9a9a9a"/>
<rect x="88.8" y="595.87" width="25.4" height="35.33" fill="#fff"/>
<rect x="89.2" y="568.52" width="24.6" height="62.68" fill="none" stroke="#111" stroke-width="0.8"/>
<line x1="88.8" y1="578.84" x2="114.2" y2="578.84" stroke="#111" stroke-width="0.6"/>
<line x1="88.8" y1="595.87" x2="114.2" y2="595.87" stroke="#111" stroke-width="0.8"/>
<rect x="125.7" y="568.12" width="25.4" height="9.46" fill="#000"/>
<rect x="125.7" y="577.58" width="25.4" height="15.96" fill="#9a9a9a"/>
<rect x="125.7" y="593.54" width="25.4" height="37.66" fill="#fff"/>
<rect x="126.1" y="568.52" width="24.6" height="62.68" fill="none" stroke="#111" stroke-width="0.8"/>
<line x1="125.7" y1="577.58" x2="151.1" y2="577.58" stroke="#111" stroke-width="0.6"/>
<line x1="125.7" y1="593.54" x2="151.1" y2="593.54" stroke="#111" stroke-width="0.8"/>
<line x1="63.5" y1="631.2" x2="63.5" y2="633.6" stroke="#333" stroke-width="0.6"/>
<text x="63.5" y="640.9" font-size="6.2" text-anchor="middle" font-weight="bold" fill="#1a1a1a" stroke="#1a1a1a" stroke-width="0.12">0</text>
<line x1="101.5" y1="631.2" x2="101.5" y2="633.6" stroke="#333" stroke-width="0.6"/>
<text x="101.5" y="640.9" font-size="6.2" text-anchor="middle" font-weight="bold" fill="#1a1a1a" stroke="#1a1a1a" stroke-width="0.12">10</text>
<line x1="138.4" y1="631.2" x2="138.4" y2="633.6" stroke="#333" stroke-width="0.6"/>
<text x="138.4" y="640.9" font-size="6.2" text-anchor="middle" font-weight="bold" fill="#1a1a1a" stroke="#1a1a1a" stroke-width="0.12">20</text>
<text x="98.4" y="649.3" font-size="5.4" text-anchor="middle" font-weight="bold" fill="#222" stroke="#222" stroke-width="0.12" textLength="97.3" lengthAdjust="spacingAndGlyphs">DCZ0415 concentration (&#956;mol/L)</text>
<rect x="157.6" y="556.6" width="12.2" height="2.9" fill="#fff" stroke="#111" stroke-width="0.7"/>
<rect x="157.6" y="564.3" width="12.2" height="2.9" fill="#9a9a9a" stroke="#111" stroke-width="0.7"/>
<rect x="157.2" y="570.7" width="12.8" height="3.5" fill="#000"/>
<text x="172.1" y="560.2" font-size="6.4" font-weight="bold" fill="#111">G<tspan font-size="4.3" dy="2">0</tspan><tspan dy="-2">&#8211;G</tspan><tspan font-size="4.3" dy="2">1</tspan></text>
<text x="173.2" y="568.1" font-size="6.4" font-weight="bold" fill="#111" stroke="#111" stroke-width="0.12">S</text>
<text x="172.5" y="574.6" font-size="6.4" font-weight="bold" fill="#111">G<tspan font-size="4.3" dy="2">2</tspan><tspan dy="-2">&#8211;M</tspan></text>
</svg>
</body></html>
